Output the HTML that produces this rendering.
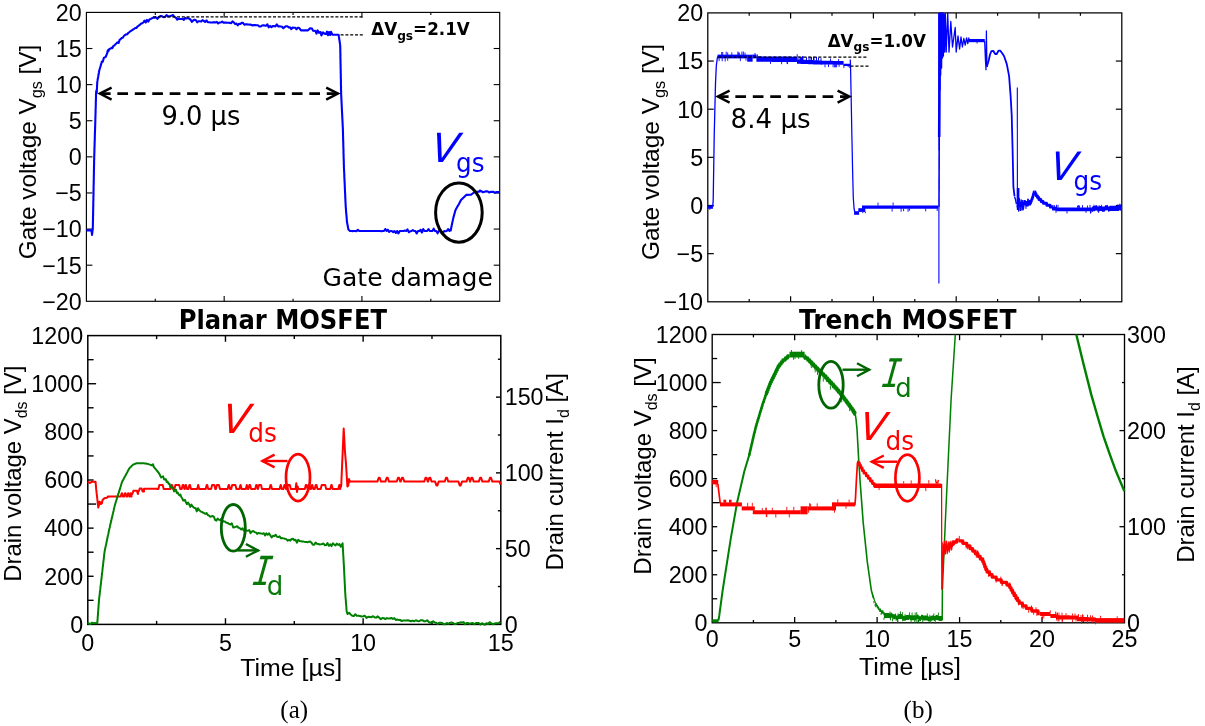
<!DOCTYPE html>
<html><head><meta charset="utf-8"><title>Short-circuit waveforms</title>
<style>html,body{margin:0;padding:0;background:#fff}svg{display:block}text{white-space:pre}</style></head>
<body><svg width="1205" height="726" viewBox="0 0 1205 726">
<rect width="1205" height="726" fill="#ffffff"/>
<rect x="86.40" y="12.40" width="413.30" height="288.90" fill="none" stroke="#000000" stroke-width="1.15"/>
<line x1="224.17" y1="301.30" x2="224.17" y2="296.00" stroke="#000000" stroke-width="1.1" />
<line x1="224.17" y1="12.40" x2="224.17" y2="17.70" stroke="#000000" stroke-width="1.1" />
<line x1="361.93" y1="301.30" x2="361.93" y2="296.00" stroke="#000000" stroke-width="1.1" />
<line x1="361.93" y1="12.40" x2="361.93" y2="17.70" stroke="#000000" stroke-width="1.1" />
<line x1="155.28" y1="301.30" x2="155.28" y2="298.70" stroke="#000000" stroke-width="1.1" />
<line x1="155.28" y1="12.40" x2="155.28" y2="15.00" stroke="#000000" stroke-width="1.1" />
<line x1="293.05" y1="301.30" x2="293.05" y2="298.70" stroke="#000000" stroke-width="1.1" />
<line x1="293.05" y1="12.40" x2="293.05" y2="15.00" stroke="#000000" stroke-width="1.1" />
<line x1="430.82" y1="301.30" x2="430.82" y2="298.70" stroke="#000000" stroke-width="1.1" />
<line x1="430.82" y1="12.40" x2="430.82" y2="15.00" stroke="#000000" stroke-width="1.1" />
<line x1="86.40" y1="265.19" x2="92.40" y2="265.19" stroke="#000000" stroke-width="1.1" />
<line x1="499.70" y1="265.19" x2="493.70" y2="265.19" stroke="#000000" stroke-width="1.1" />
<line x1="86.40" y1="229.07" x2="92.40" y2="229.07" stroke="#000000" stroke-width="1.1" />
<line x1="499.70" y1="229.07" x2="493.70" y2="229.07" stroke="#000000" stroke-width="1.1" />
<line x1="86.40" y1="192.96" x2="92.40" y2="192.96" stroke="#000000" stroke-width="1.1" />
<line x1="499.70" y1="192.96" x2="493.70" y2="192.96" stroke="#000000" stroke-width="1.1" />
<line x1="86.40" y1="156.85" x2="92.40" y2="156.85" stroke="#000000" stroke-width="1.1" />
<line x1="499.70" y1="156.85" x2="493.70" y2="156.85" stroke="#000000" stroke-width="1.1" />
<line x1="86.40" y1="120.74" x2="92.40" y2="120.74" stroke="#000000" stroke-width="1.1" />
<line x1="499.70" y1="120.74" x2="493.70" y2="120.74" stroke="#000000" stroke-width="1.1" />
<line x1="86.40" y1="84.62" x2="92.40" y2="84.62" stroke="#000000" stroke-width="1.1" />
<line x1="499.70" y1="84.62" x2="493.70" y2="84.62" stroke="#000000" stroke-width="1.1" />
<line x1="86.40" y1="48.51" x2="92.40" y2="48.51" stroke="#000000" stroke-width="1.1" />
<line x1="499.70" y1="48.51" x2="493.70" y2="48.51" stroke="#000000" stroke-width="1.1" />
<text x="81.70" y="309.64" font-size="23.3" font-family='"Liberation Sans", Arial, sans-serif' text-anchor="end" fill="#000000" >−20</text>
<text x="81.70" y="273.53" font-size="23.3" font-family='"Liberation Sans", Arial, sans-serif' text-anchor="end" fill="#000000" >−15</text>
<text x="81.70" y="237.42" font-size="23.3" font-family='"Liberation Sans", Arial, sans-serif' text-anchor="end" fill="#000000" >−10</text>
<text x="81.70" y="201.30" font-size="23.3" font-family='"Liberation Sans", Arial, sans-serif' text-anchor="end" fill="#000000" >−5</text>
<text x="81.70" y="165.19" font-size="23.3" font-family='"Liberation Sans", Arial, sans-serif' text-anchor="end" fill="#000000" >0</text>
<text x="81.70" y="129.08" font-size="23.3" font-family='"Liberation Sans", Arial, sans-serif' text-anchor="end" fill="#000000" >5</text>
<text x="81.70" y="92.97" font-size="23.3" font-family='"Liberation Sans", Arial, sans-serif' text-anchor="end" fill="#000000" >10</text>
<text x="81.70" y="56.85" font-size="23.3" font-family='"Liberation Sans", Arial, sans-serif' text-anchor="end" fill="#000000" >15</text>
<text x="81.70" y="20.74" font-size="23.3" font-family='"Liberation Sans", Arial, sans-serif' text-anchor="end" fill="#000000" >20</text>
<text transform="translate(35.8 152.0) rotate(-90)" text-anchor="middle" font-family='"Liberation Sans", Arial, sans-serif' font-size="23.8" fill="#000000" textLength="214.6" lengthAdjust="spacingAndGlyphs">Gate voltage V<tspan font-size="15.8" dy="5.8">gs</tspan><tspan dy="-5.8"> [V]</tspan></text>
<polyline points="86.4,230.4 87.4,230.4 88.4,230.4 89.5,230.4 90.5,230.4 91.5,230.4 91.6,231.6 91.8,232.7 91.9,233.8 92.0,235.0 92.1,233.9 92.3,232.9 92.4,231.8 92.5,230.7 92.7,229.7 92.8,228.6 92.8,227.6 92.8,226.6 92.9,225.6 92.9,224.6 92.9,223.6 92.9,222.6 92.9,221.6 93.0,220.6 93.0,219.6 93.0,218.6 93.0,217.6 93.0,216.6 93.1,215.6 93.1,214.6 93.1,213.6 93.1,212.6 93.1,211.6 93.2,210.5 93.2,209.5 93.2,208.5 93.2,207.5 93.2,206.5 93.3,205.5 93.3,204.5 93.3,203.5 93.3,202.5 93.3,201.5 93.4,200.5 93.4,199.5 93.4,198.5 93.4,197.5 93.4,196.5 93.5,195.5 93.5,194.5 93.5,193.5 93.5,192.5 93.5,191.5 93.5,190.5 93.6,189.5 93.6,188.5 93.6,187.5 93.6,186.5 93.6,185.5 93.7,184.5 93.7,183.5 93.7,182.5 93.7,181.5 93.7,180.5 93.8,179.5 93.8,178.5 93.8,177.5 93.8,176.5 93.8,175.5 93.9,174.4 93.9,173.4 93.9,172.4 93.9,171.4 93.9,170.4 94.0,169.4 94.0,168.4 94.0,167.4 94.0,166.4 94.0,165.4 94.1,164.4 94.1,163.4 94.1,162.4 94.1,161.4 94.1,160.4 94.2,159.4 94.2,158.4 94.2,157.4 94.2,156.4 94.3,155.4 94.3,154.3 94.3,153.3 94.4,152.3 94.4,151.3 94.4,150.2 94.4,149.2 94.5,148.2 94.5,147.2 94.5,146.2 94.6,145.1 94.6,144.1 94.6,143.1 94.7,142.1 94.7,141.1 94.7,140.0 94.8,139.0 94.8,138.0 94.8,137.0 94.8,135.9 94.9,134.9 94.9,133.9 94.9,132.9 95.0,131.9 95.0,130.8 95.0,129.8 95.1,128.8 95.1,127.8 95.1,126.8 95.2,125.7 95.2,124.7 95.2,123.7 95.3,122.7 95.3,121.7 95.3,120.6 95.3,119.6 95.4,118.6 95.4,117.6 95.4,116.5 95.5,115.5 95.5,114.5 95.5,113.5 95.6,112.4 95.6,111.4 95.6,110.3 95.6,109.3 95.7,108.2 95.7,107.2 95.7,106.2 95.8,105.1 95.8,104.1 95.8,103.0 95.8,102.0 95.9,100.9 95.9,99.9 95.9,98.9 96.0,97.8 96.0,96.8 96.0,95.7 96.0,94.7 96.1,93.6 96.1,92.6 96.2,91.5 96.4,90.5 96.6,91.8 96.7,93.0 96.8,92.0 96.8,90.9 96.9,89.9 96.9,88.9 97.0,87.9 97.0,86.8 97.1,85.8 97.1,84.8 97.2,83.8 97.2,82.7 97.3,81.7 97.5,80.7 97.6,79.7 97.8,78.7 98.0,77.7 98.2,76.7 98.3,75.7 98.5,74.7 98.7,73.7 98.9,72.7 99.0,71.7 99.2,70.7 99.5,69.7 99.8,68.7 100.1,67.7 100.4,66.7 100.7,65.6 101.0,64.6 101.3,63.6 101.6,62.6 101.9,61.6 101.9,61.6 102.8,61.8 103.8,57.9 104.7,57.4 105.6,57.0 106.1,56.0 106.7,54.4 107.2,53.3 107.8,50.2 108.3,51.3 109.3,49.0 110.3,48.8 111.4,47.9 112.4,48.1 113.4,46.0 114.5,45.4 115.5,44.2 116.5,43.3 117.5,42.3 118.6,43.0 119.6,39.9 120.7,39.1 121.7,38.0 122.8,37.7 123.8,36.0 124.9,35.2 126.1,34.4 127.2,34.3 128.3,32.8 129.5,32.0 130.6,31.2 131.8,30.4 132.9,29.6 134.1,28.8 135.2,28.0 136.3,28.0 137.5,26.5 138.7,25.7 139.8,24.9 140.9,23.7 142.1,23.3 143.3,22.5 144.5,20.6 145.7,22.5 146.9,19.9 148.2,21.7 149.4,19.4 150.6,19.0 151.8,18.4 153.0,17.8 154.5,17.7 155.9,17.2 157.4,18.9 158.8,17.3 160.3,16.0 161.8,16.1 163.4,17.1 164.9,17.0 166.5,15.1 168.0,16.4 169.3,16.4 170.6,15.9 171.8,15.5 173.1,15.0 174.5,17.0 175.9,17.6 177.2,19.7 178.6,18.7 179.9,18.9 181.3,19.0 182.6,18.8 183.9,19.9 185.2,17.9 186.6,18.4 187.9,18.1 189.2,18.7 190.5,19.7 191.9,21.8 193.2,20.5 194.5,19.7 195.9,20.3 197.2,22.3 198.5,21.2 199.8,21.3 201.2,21.5 202.5,20.1 203.8,20.9 205.1,22.0 206.5,20.3 207.8,22.3 209.1,22.3 210.4,22.5 211.7,22.5 213.0,22.4 214.3,22.4 215.6,22.4 216.9,21.9 218.2,23.5 219.5,22.5 220.8,22.5 222.1,21.5 223.4,22.6 224.7,22.6 226.0,22.6 227.3,22.7 228.6,22.8 229.9,22.9 231.2,23.1 232.5,21.4 233.8,22.4 235.2,24.1 236.5,23.5 237.8,25.3 239.1,23.7 240.4,23.9 241.7,22.9 243.0,22.9 244.3,24.7 245.7,24.3 247.1,24.4 248.4,24.5 249.8,24.6 251.2,24.8 252.6,25.5 253.9,25.0 255.3,25.1 256.6,25.2 258.0,25.2 259.3,26.4 260.7,26.5 262.0,25.5 263.4,25.2 264.7,25.6 266.0,25.7 267.4,24.3 268.7,27.4 270.1,25.9 271.4,27.2 272.7,26.1 274.1,26.1 275.4,26.4 276.8,24.4 278.1,26.4 279.5,26.4 280.8,26.5 282.1,26.7 283.4,28.2 284.7,27.0 286.1,26.2 287.4,26.3 288.7,27.4 290.0,27.3 291.3,29.2 292.6,27.5 293.9,27.7 295.2,27.7 296.5,29.3 297.8,27.8 299.1,27.8 299.1,27.8 301.0,30.4 308.0,30.4 310.0,28.2 312.0,28.6 313.0,30.6 315.5,31.0 316.5,33.6 317.6,30.4 319.0,32.8 320.6,32.0 321.4,35.4 323.0,32.4 324.6,33.8 326.0,34.0 327.0,31.6 328.0,35.2 329.0,32.0 330.2,35.0 331.0,31.8 332.4,34.6 338.6,34.8 338.6,34.8 338.8,35.8 338.9,36.9 339.1,37.9 339.2,39.0 339.4,40.0 339.6,41.0 339.7,42.1 339.9,43.1 340.0,44.2 340.2,45.2 340.2,46.2 340.2,47.2 340.3,48.2 340.3,49.2 340.3,50.2 340.3,51.3 340.3,52.3 340.4,53.3 340.4,54.3 340.4,55.3 340.4,56.3 340.4,57.3 340.4,58.3 340.5,59.3 340.5,60.3 340.5,61.3 340.5,62.3 340.5,63.4 340.6,64.4 340.6,65.4 340.6,66.4 340.6,67.4 340.6,68.4 340.7,69.4 340.7,70.4 340.7,71.4 340.7,72.4 340.7,73.4 340.8,74.4 340.8,75.5 340.8,76.5 340.8,77.5 340.8,78.5 340.9,79.5 340.9,80.5 340.9,81.5 340.9,82.5 340.9,83.5 340.9,84.5 341.0,85.5 341.0,86.5 341.0,87.6 341.0,88.6 341.0,89.6 341.1,90.6 341.1,91.6 341.1,92.6 341.1,93.6 341.2,94.6 341.2,95.6 341.3,96.6 341.3,97.7 341.4,98.7 341.4,99.7 341.5,100.7 341.5,101.7 341.6,102.7 341.6,103.7 341.7,104.7 341.7,105.7 341.8,106.8 341.8,107.8 341.9,108.8 341.9,109.8 342.0,110.8 342.0,111.8 342.1,112.8 342.1,113.8 342.2,114.8 342.2,115.8 342.3,116.9 342.3,117.9 342.4,118.9 342.4,119.9 342.5,120.9 342.5,121.9 342.6,122.9 342.6,123.9 342.7,124.9 342.7,126.0 342.8,127.0 342.8,128.0 342.9,129.0 342.9,130.0 342.9,131.0 343.0,132.0 343.0,133.0 343.0,134.1 343.0,135.1 343.1,136.1 343.1,137.1 343.1,138.1 343.1,139.1 343.2,140.1 343.2,141.2 343.2,142.2 343.3,143.2 343.3,144.2 343.3,145.2 343.3,146.2 343.4,147.2 343.4,148.2 343.4,149.3 343.5,150.3 343.5,151.3 343.5,152.3 343.5,153.3 343.6,154.3 343.6,155.3 343.6,156.4 343.6,157.4 343.7,158.4 343.7,159.4 343.7,160.4 343.8,161.4 343.8,162.4 343.8,163.5 343.8,164.5 343.9,165.5 343.9,166.5 343.9,167.5 344.0,168.5 344.0,169.5 344.1,170.5 344.1,171.5 344.2,172.5 344.2,173.5 344.3,174.5 344.3,175.5 344.3,176.6 344.4,177.6 344.4,178.6 344.5,179.6 344.5,180.6 344.6,181.6 344.6,182.6 344.7,183.6 344.7,184.6 344.8,185.6 344.8,186.6 344.8,187.6 344.9,188.6 344.9,189.6 345.0,190.6 345.0,191.6 345.1,192.6 345.1,193.6 345.2,194.6 345.2,195.6 345.2,196.6 345.3,197.7 345.3,198.7 345.4,199.7 345.4,200.7 345.5,201.7 345.5,202.7 345.6,203.7 345.6,204.7 345.7,205.7 345.7,206.7 345.8,207.7 345.9,208.7 346.0,209.8 346.0,210.8 346.1,211.8 346.2,212.8 346.3,213.8 346.4,214.9 346.5,215.9 346.6,216.9 346.7,217.9 346.7,218.9 346.8,220.0 346.9,221.0 347.0,222.0 347.2,223.1 347.4,224.1 347.6,225.2 347.8,226.3 348.0,227.4 348.2,228.4 348.4,229.5 349.2,230.2 350.0,231.0 350.0,231.0 351.3,231.0 352.6,231.1 353.9,231.0 355.2,231.0 356.5,231.3 357.8,229.8 359.2,231.0 360.5,231.0 361.8,231.0 363.1,231.0 364.4,231.0 365.7,231.0 367.0,231.0 368.3,231.0 369.6,231.0 370.9,231.0 372.2,231.0 373.5,231.0 374.8,231.0 376.2,231.0 377.5,231.0 378.8,231.0 380.1,231.0 381.4,231.3 382.7,231.0 384.0,231.0 385.3,229.0 386.6,231.0 387.9,229.7 389.2,231.9 390.5,231.0 391.8,231.0 393.2,232.1 394.5,231.0 395.8,233.0 397.1,231.0 398.4,233.4 399.7,231.0 401.0,231.0 402.3,231.0 403.6,231.0 404.9,230.6 406.2,231.0 407.5,229.4 408.9,232.2 410.2,231.3 411.5,231.0 412.8,230.1 414.1,231.0 415.4,231.0 416.7,233.5 418.0,231.0 419.3,231.0 420.6,229.8 421.9,232.5 423.2,229.1 424.5,231.0 425.9,231.0 427.2,231.0 428.5,229.2 429.8,231.0 431.1,231.0 432.4,231.0 433.7,228.7 435.0,231.0 436.3,231.0 437.6,233.3 438.9,231.0 440.2,231.0 441.5,232.9 442.9,232.9 444.2,231.0 445.5,231.3 446.8,231.0 448.1,229.1 449.4,231.0 450.7,229.0 450.7,230.5 452.0,224.0 453.4,217.6 455.5,210.0 458.0,205.5 458.8,204.3 461.0,200.0 466.2,194.9 470.8,194.8 474.0,192.5 479.9,191.4 479.9,190.5 481.4,191.2 482.9,192.3 484.5,191.7 486.0,191.4 487.5,191.2 489.0,192.4 490.6,191.9 492.1,191.8 493.6,191.9 495.1,192.8 496.7,192.0 498.2,192.1 499.7,192.1" fill="none" stroke="#0000ff" stroke-width="2.1" stroke-linejoin="round" stroke-linecap="butt" />
<line x1="153.00" y1="16.95" x2="362.30" y2="16.95" stroke="#000" stroke-width="1.3" stroke-dasharray="3 1.8"/>
<line x1="340.60" y1="34.90" x2="363.20" y2="34.90" stroke="#000" stroke-width="1.3" stroke-dasharray="3 1.8"/>
<line x1="99.90" y1="93.60" x2="338.00" y2="93.60" stroke="#000000" stroke-width="2.6" stroke-dasharray="10.7 6.75"/>
<polyline points="111.6,87.6 99.8,93.6 111.6,99.6" fill="none" stroke="#000000" stroke-width="2.4" stroke-linejoin="miter" stroke-linecap="butt"/>
<polyline points="326.2,87.6 338.0,93.6 326.2,99.6" fill="none" stroke="#000000" stroke-width="2.4" stroke-linejoin="miter" stroke-linecap="butt"/>
<text x="161.40" y="125.00" font-size="27" font-family='"DejaVu Sans", "Liberation Sans", sans-serif' text-anchor="start" fill="#000000" textLength="79.0" lengthAdjust="spacingAndGlyphs" >9.0 µs</text>
<text x="371.2" y="35.1" font-family='"DejaVu Sans", "Liberation Sans", sans-serif' font-weight="bold" font-size="17.2" fill="#000000" textLength="98.6" lengthAdjust="spacingAndGlyphs">ΔV<tspan font-size="12.5" dy="4.6">gs</tspan><tspan dy="-4.6">=2.1V</tspan></text>
<text x="0" y="0" transform="translate(430.1 162) skewX(-7.5)" font-family='"DejaVu Sans", "Liberation Sans", sans-serif' font-style="italic" font-size="40" fill="#0000ff">V</text>
<text x="456.00" y="171.80" font-size="26.7" font-family='"DejaVu Sans", "Liberation Sans", sans-serif' text-anchor="start" fill="#0000ff" textLength="28.5" lengthAdjust="spacingAndGlyphs" >gs</text>
<ellipse cx="458.9" cy="212.6" rx="23.3" ry="29.6" fill="none" stroke="#000000" stroke-width="3.0"/>
<text x="322.60" y="285.70" font-size="25" font-family='"DejaVu Sans", "Liberation Sans", sans-serif' text-anchor="start" fill="#000000" textLength="170.3" lengthAdjust="spacingAndGlyphs" >Gate damage</text>
<text x="178.70" y="328.90" font-size="26" font-family='"DejaVu Sans", "Liberation Sans", sans-serif' text-anchor="start" fill="#000000" font-weight="bold" textLength="208.3" lengthAdjust="spacingAndGlyphs" >Planar MOSFET</text>
<rect x="87.80" y="335.60" width="413.00" height="288.80" fill="none" stroke="#000000" stroke-width="1.5"/>
<line x1="225.47" y1="624.40" x2="225.47" y2="618.20" stroke="#000000" stroke-width="1.4" />
<line x1="225.47" y1="335.60" x2="225.47" y2="341.80" stroke="#000000" stroke-width="1.4" />
<line x1="363.13" y1="624.40" x2="363.13" y2="618.20" stroke="#000000" stroke-width="1.4" />
<line x1="363.13" y1="335.60" x2="363.13" y2="341.80" stroke="#000000" stroke-width="1.4" />
<line x1="156.63" y1="624.40" x2="156.63" y2="620.90" stroke="#000000" stroke-width="1.4" />
<line x1="156.63" y1="335.60" x2="156.63" y2="339.10" stroke="#000000" stroke-width="1.4" />
<line x1="294.30" y1="624.40" x2="294.30" y2="620.90" stroke="#000000" stroke-width="1.4" />
<line x1="294.30" y1="335.60" x2="294.30" y2="339.10" stroke="#000000" stroke-width="1.4" />
<line x1="431.97" y1="624.40" x2="431.97" y2="620.90" stroke="#000000" stroke-width="1.4" />
<line x1="431.97" y1="335.60" x2="431.97" y2="339.10" stroke="#000000" stroke-width="1.4" />
<line x1="87.80" y1="504.07" x2="96.10" y2="504.07" stroke="#000000" stroke-width="1.4" />
<line x1="87.80" y1="383.73" x2="96.10" y2="383.73" stroke="#000000" stroke-width="1.4" />
<line x1="87.80" y1="600.33" x2="93.60" y2="600.33" stroke="#000000" stroke-width="1.4" />
<line x1="87.80" y1="576.27" x2="93.60" y2="576.27" stroke="#000000" stroke-width="1.4" />
<line x1="87.80" y1="552.20" x2="93.60" y2="552.20" stroke="#000000" stroke-width="1.4" />
<line x1="87.80" y1="528.13" x2="93.60" y2="528.13" stroke="#000000" stroke-width="1.4" />
<line x1="87.80" y1="480.00" x2="93.60" y2="480.00" stroke="#000000" stroke-width="1.4" />
<line x1="87.80" y1="455.93" x2="93.60" y2="455.93" stroke="#000000" stroke-width="1.4" />
<line x1="87.80" y1="431.87" x2="93.60" y2="431.87" stroke="#000000" stroke-width="1.4" />
<line x1="87.80" y1="407.80" x2="93.60" y2="407.80" stroke="#000000" stroke-width="1.4" />
<line x1="87.80" y1="359.67" x2="93.60" y2="359.67" stroke="#000000" stroke-width="1.4" />
<line x1="500.80" y1="548.64" x2="496.00" y2="548.64" stroke="#000000" stroke-width="1.4" />
<line x1="500.80" y1="472.88" x2="496.00" y2="472.88" stroke="#000000" stroke-width="1.4" />
<line x1="500.80" y1="397.12" x2="496.00" y2="397.12" stroke="#000000" stroke-width="1.4" />
<line x1="500.80" y1="586.52" x2="497.90" y2="586.52" stroke="#000000" stroke-width="1.4" />
<line x1="500.80" y1="510.76" x2="497.90" y2="510.76" stroke="#000000" stroke-width="1.4" />
<line x1="500.80" y1="435.00" x2="497.90" y2="435.00" stroke="#000000" stroke-width="1.4" />
<line x1="500.80" y1="359.24" x2="497.90" y2="359.24" stroke="#000000" stroke-width="1.4" />
<text x="83.10" y="632.74" font-size="23.3" font-family='"Liberation Sans", Arial, sans-serif' text-anchor="end" fill="#000000" >0</text>
<text x="83.10" y="584.61" font-size="23.3" font-family='"Liberation Sans", Arial, sans-serif' text-anchor="end" fill="#000000" >200</text>
<text x="83.10" y="536.47" font-size="23.3" font-family='"Liberation Sans", Arial, sans-serif' text-anchor="end" fill="#000000" >400</text>
<text x="83.10" y="488.34" font-size="23.3" font-family='"Liberation Sans", Arial, sans-serif' text-anchor="end" fill="#000000" >600</text>
<text x="83.10" y="440.21" font-size="23.3" font-family='"Liberation Sans", Arial, sans-serif' text-anchor="end" fill="#000000" >800</text>
<text x="83.10" y="392.07" font-size="23.3" font-family='"Liberation Sans", Arial, sans-serif' text-anchor="end" fill="#000000" >1000</text>
<text x="83.10" y="343.94" font-size="23.3" font-family='"Liberation Sans", Arial, sans-serif' text-anchor="end" fill="#000000" >1200</text>
<text x="504.70" y="632.74" font-size="23.3" font-family='"Liberation Sans", Arial, sans-serif' text-anchor="start" fill="#000000" >0</text>
<text x="504.70" y="556.98" font-size="23.3" font-family='"Liberation Sans", Arial, sans-serif' text-anchor="start" fill="#000000" >50</text>
<text x="504.70" y="481.22" font-size="23.3" font-family='"Liberation Sans", Arial, sans-serif' text-anchor="start" fill="#000000" >100</text>
<text x="504.70" y="405.46" font-size="23.3" font-family='"Liberation Sans", Arial, sans-serif' text-anchor="start" fill="#000000" >150</text>
<text x="87.80" y="651.20" font-size="23.3" font-family='"Liberation Sans", Arial, sans-serif' text-anchor="middle" fill="#000000" >0</text>
<text x="225.47" y="651.20" font-size="23.3" font-family='"Liberation Sans", Arial, sans-serif' text-anchor="middle" fill="#000000" >5</text>
<text x="363.13" y="651.20" font-size="23.3" font-family='"Liberation Sans", Arial, sans-serif' text-anchor="middle" fill="#000000" >10</text>
<text x="500.80" y="651.20" font-size="23.3" font-family='"Liberation Sans", Arial, sans-serif' text-anchor="middle" fill="#000000" >15</text>
<text transform="translate(21.3 473.7) rotate(-90)" text-anchor="middle" font-family='"Liberation Sans", Arial, sans-serif' font-size="23.8" fill="#000000" textLength="216" lengthAdjust="spacingAndGlyphs">Drain voltage V<tspan font-size="15.8" dy="5.8">ds</tspan><tspan dy="-5.8"> [V]</tspan></text>
<text transform="translate(563.2 471.8) rotate(-90)" text-anchor="middle" font-family='"Liberation Sans", Arial, sans-serif' font-size="23.8" fill="#000000" textLength="197.6" lengthAdjust="spacingAndGlyphs">Drain current I<tspan font-size="15.8" dy="5.8">d</tspan><tspan dy="-5.8"> [A]</tspan></text>
<text x="240.20" y="676.20" font-size="24.2" font-family='"Liberation Sans", Arial, sans-serif' text-anchor="start" fill="#000000" textLength="102.0" lengthAdjust="spacingAndGlyphs" >Time [µs]</text>
<text x="294.20" y="717.90" font-size="25" font-family='"Liberation Serif", serif' text-anchor="middle" fill="#000000" >(a)</text>
<polyline points="87.8,481.7 88.9,482.4 90.0,483.0 92.0,481.7 93.8,481.7 95.5,481.7 95.6,483.0 95.8,484.3 95.9,485.6 96.0,486.9 96.1,488.1 96.2,489.4 96.4,490.7 96.5,492.0 96.6,493.2 96.8,494.4 96.9,495.6 97.1,496.8 97.2,498.0 97.3,499.2 97.5,500.4 97.6,501.6 97.7,502.8 97.9,504.0 98.0,505.2 98.2,506.4 98.3,507.6 98.3,507.3 98.5,506.7 98.8,505.8 99.0,504.8 99.3,503.9 99.5,501.7 100.2,502.2 101.0,504.0 101.5,502.1 101.9,503.2 102.3,501.2 102.8,499.6 103.6,499.1 104.4,498.1 105.2,497.9 106.0,498.0 107.0,497.6 108.0,496.4 109.0,496.7 109.0,496.4 120.0,496.4 120.0,496.6 120.7,496.6 121.7,493.2 122.1,493.2 123.1,496.6 124.0,496.6 125.0,493.2 125.5,493.2 126.5,496.6 127.1,496.6 128.1,493.2 128.5,493.2 129.5,496.6 129.7,496.6 130.7,493.2 130.9,493.2 131.5,496.6 131.5,494.0 132.4,494.0 133.4,490.8 136.9,490.8 137.9,494.0 138.0,494.0 138.0,491.5 138.7,491.5 139.7,488.6 141.6,488.6 142.6,491.5 144.0,491.5 144.0,488.8 157.0,488.8 157.0,488.9 158.4,488.9 159.4,485.0 162.7,485.0 163.7,488.9 170.5,488.9 171.5,485.0 172.0,485.0 173.0,488.9 174.4,488.9 175.4,485.0 179.2,485.0 180.2,488.9 181.7,488.9 182.7,485.0 183.4,485.0 184.4,488.9 184.7,488.9 185.7,485.0 186.0,485.0 187.0,488.9 188.4,488.9 189.4,485.0 190.0,485.0 191.0,488.9 197.2,488.9 198.2,485.0 198.2,485.0 199.2,488.9 205.7,488.9 206.7,485.0 207.2,485.0 208.2,488.9 211.1,488.9 212.1,485.0 214.3,485.0 215.3,488.9 215.9,488.9 216.9,485.0 218.9,485.0 219.9,488.9 227.6,488.9 228.6,485.0 229.0,485.0 230.0,488.9 231.2,488.9 232.2,485.0 235.4,485.0 236.4,488.9 239.4,488.9 240.4,485.0 240.6,485.0 241.6,488.9 245.8,488.9 246.8,485.0 246.8,485.0 247.8,488.9 248.4,488.9 249.4,485.0 250.1,485.0 251.1,488.9 255.2,488.9 256.2,485.0 256.7,485.0 257.7,488.9 258.0,488.9 259.0,485.0 261.0,485.0 262.0,488.9 269.5,488.9 270.5,485.0 271.0,485.0 272.0,488.9 279.6,488.9 280.6,485.0 280.8,485.0 281.8,488.9 283.4,488.9 284.4,485.0 285.0,485.0 286.0,488.9 287.0,488.9 288.0,485.0 289.8,485.0 290.8,488.9 295.0,488.9 295.6,488.9 296.3,483.2 297.0,492.0 297.7,486.5 298.3,488.9 298.5,488.9 304.8,488.9 305.8,485.0 306.6,485.0 307.6,488.9 307.9,488.9 308.9,485.0 309.3,485.0 310.3,488.9 311.0,488.9 312.0,485.0 312.3,485.0 313.3,488.9 314.7,488.9 315.7,485.0 316.5,485.0 317.5,488.9 320.7,488.9 321.7,485.0 325.2,485.0 326.2,488.9 330.3,488.9 331.3,485.0 331.7,485.0 332.7,488.9 338.3,488.9 339.3,485.0 339.7,485.0 340.0,488.9 340.1,489.0 341.2,486.0 343.7,428.5 345.0,452.0 346.0,463.9 347.4,486.5 348.3,485.5 349.0,479.0 350.0,481.8 350.0,481.6 377.4,481.6 378.7,477.7 379.7,477.7 381.0,481.6 385.4,481.6 386.7,477.7 387.7,477.7 389.0,481.6 396.7,481.6 398.0,477.7 399.0,477.7 400.3,481.6 400.7,481.6 402.0,477.7 403.0,477.7 404.3,481.6 424.2,481.6 425.5,477.7 426.5,477.7 427.8,481.6 428.0,481.6 429.3,477.7 430.3,477.7 431.6,481.6 435.1,481.6 436.4,485.4 437.4,485.4 438.7,481.6 444.7,481.6 446.0,477.7 447.0,477.7 448.3,481.6 458.4,481.6 459.7,485.4 460.7,485.4 462.0,481.6 466.5,481.6 467.8,477.7 468.8,477.7 470.1,481.6 470.1,481.6 471.4,477.7 472.4,477.7 473.7,481.6 478.8,481.6 480.1,477.7 481.1,477.7 482.4,481.6 488.7,481.6 490.0,477.7 491.0,477.7 492.3,481.6 499.4,481.6 500.6,484.5" fill="none" stroke="#ff0000" stroke-width="2.0" stroke-linejoin="round" stroke-linecap="butt" />
<polyline points="87.8,622.4 89.2,623.8 90.5,624.0 91.9,622.8 93.2,623.2 94.6,623.0 95.9,623.2 97.3,623.2 97.3,623.2 97.4,622.2 97.4,621.2 97.5,620.2 97.6,619.2 97.7,618.2 97.7,617.1 97.8,616.1 97.9,615.1 98.0,614.1 98.0,613.1 98.1,612.1 98.2,611.1 98.3,610.1 98.3,609.1 98.4,608.1 98.5,607.1 98.6,606.1 98.6,605.0 98.7,604.0 98.8,603.0 98.9,602.0 98.9,601.0 99.0,600.0 99.1,599.0 99.2,598.0 99.3,597.0 99.5,596.0 99.6,594.9 99.7,593.9 99.8,592.9 99.9,591.9 100.0,590.9 100.2,589.9 100.3,588.9 100.4,587.9 100.5,586.9 100.6,585.9 100.8,584.8 100.9,583.8 101.0,582.8 101.1,581.8 101.2,580.8 101.3,579.8 101.5,578.8 101.6,577.8 101.7,576.8 101.8,575.8 101.9,574.7 102.0,573.7 102.1,572.7 102.3,571.7 102.4,570.7 102.5,569.7 102.6,568.7 102.7,567.7 102.8,566.7 103.0,565.6 103.1,564.6 103.2,563.6 103.3,562.6 103.4,561.6 103.5,560.6 103.7,559.6 103.8,558.6 103.9,557.6 104.0,556.6 104.1,555.5 104.2,554.5 104.4,553.5 104.5,552.5 104.6,551.5 104.8,550.5 105.0,549.5 105.2,548.5 105.4,547.5 105.6,546.5 105.9,545.5 106.1,544.5 106.3,543.5 106.5,542.5 106.7,541.5 106.9,540.5 107.1,539.5 107.3,538.5 107.5,537.5 107.7,536.5 107.9,535.5 108.2,534.5 108.4,533.5 108.6,532.5 108.8,531.5 109.0,530.5 109.2,529.5 109.4,528.5 109.7,527.5 109.9,526.5 110.1,525.5 110.3,524.6 110.6,523.6 110.8,522.6 111.0,521.6 111.3,520.6 111.5,519.6 111.7,518.6 112.0,517.6 112.2,516.7 112.4,515.7 112.6,514.7 112.9,513.7 113.1,512.7 113.3,511.7 113.6,510.7 113.8,509.8 114.0,508.8 114.2,507.8 114.5,506.8 114.7,505.8 115.0,504.8 115.3,503.8 115.6,502.8 115.9,501.8 116.2,500.8 116.5,499.9 116.8,498.9 117.1,497.9 117.4,496.9 117.7,495.9 118.0,494.9 118.3,493.9 118.7,492.9 119.0,491.9 119.3,490.9 119.6,489.9 119.9,488.9 120.2,487.9 120.5,487.0 120.8,486.0 121.1,485.0 121.4,484.0 121.7,483.0 122.0,482.0 122.5,481.1 123.0,480.2 123.5,479.3 123.9,478.4 124.4,477.5 124.9,476.6 125.4,475.7 125.9,474.7 126.4,473.8 126.9,472.9 127.4,472.0 127.8,471.1 128.3,470.2 128.8,469.3 129.3,468.4 130.0,467.6 130.8,466.9 131.5,466.1 132.3,465.4 133.0,464.6 134.2,464.2 135.4,463.7 136.6,463.3 137.6,463.3 138.7,463.3 139.7,463.3 140.8,463.3 141.8,463.3 142.9,463.3 143.9,463.3 144.9,463.4 145.9,463.6 147.0,463.8 148.0,463.9 148.0,463.9 149.2,464.4 150.5,464.9 151.8,465.4 153.0,464.3 153.9,467.1 154.8,468.1 155.7,469.2 156.7,470.4 157.6,471.5 158.5,472.6 159.4,473.9 160.3,475.9 161.2,477.5 162.1,476.8 163.1,476.3 164.0,479.3 164.9,479.7 165.8,479.0 166.7,482.0 167.6,481.6 168.6,483.7 169.5,483.8 170.4,487.5 171.3,486.6 172.2,487.6 173.1,487.5 174.0,491.4 175.0,490.5 175.9,489.6 176.8,493.1 177.7,492.5 178.6,494.4 179.5,495.4 180.4,494.5 181.3,497.0 182.2,498.3 183.2,500.5 184.1,500.2 185.0,500.0 185.9,502.2 187.0,504.2 188.1,502.5 189.2,504.4 190.3,506.9 191.4,504.6 192.4,506.2 193.5,507.3 194.6,508.0 195.7,508.3 196.8,511.4 198.0,508.3 199.2,510.3 200.5,511.3 201.7,511.9 202.9,512.5 204.2,513.1 205.4,513.8 206.6,513.1 207.8,515.0 209.1,515.6 210.3,516.8 211.5,516.3 212.7,516.0 213.9,516.9 215.2,520.1 216.4,520.6 217.6,518.6 218.8,519.7 220.0,520.2 221.2,518.9 222.4,520.6 223.7,521.6 224.9,521.6 226.1,522.6 227.5,522.9 228.9,523.9 230.4,524.5 231.8,523.3 233.2,527.5 234.5,527.3 235.9,526.7 237.2,526.3 238.5,527.7 239.8,528.1 241.2,529.5 242.5,528.2 243.8,530.6 245.2,530.0 246.5,530.5 247.8,530.8 249.2,530.0 250.5,533.1 251.8,531.6 253.2,530.9 254.5,532.1 255.8,532.4 257.1,533.9 258.5,532.9 259.8,533.2 261.1,533.5 262.4,533.7 263.8,533.3 265.1,535.4 266.4,533.3 267.7,534.8 269.0,533.3 270.4,535.5 271.7,537.5 273.0,535.8 274.3,536.1 275.7,534.8 277.0,536.8 278.3,537.1 279.6,536.4 281.0,538.3 282.3,538.1 283.6,538.4 285.0,538.8 286.3,539.1 287.6,540.7 289.0,539.8 290.3,540.7 291.6,538.9 293.0,538.7 294.3,540.3 295.6,539.8 296.9,542.7 298.3,539.8 299.6,541.1 300.9,541.3 302.3,541.5 303.6,541.6 304.9,541.9 306.2,542.1 307.6,542.3 308.9,541.7 310.2,541.5 311.6,542.9 312.9,544.8 314.2,544.8 315.6,542.5 316.9,543.7 318.2,543.9 319.5,544.5 320.9,544.3 322.2,544.0 323.5,543.5 324.9,545.3 326.2,545.1 327.5,543.1 328.9,545.8 330.2,544.3 331.5,546.2 332.8,543.3 334.2,544.6 335.5,545.5 336.8,543.6 338.1,544.9 339.5,544.1 340.8,546.7 342.6,543.6 342.6,543.3 342.7,544.3 342.7,545.3 342.8,546.4 342.8,547.4 342.9,548.4 342.9,549.4 343.0,550.4 343.1,551.5 343.1,552.5 343.2,553.5 343.2,554.5 343.3,555.5 343.4,556.5 343.4,557.6 343.5,558.6 343.5,559.6 343.6,560.6 343.6,561.6 343.7,562.7 343.8,563.7 343.8,564.7 343.9,565.7 343.9,566.7 344.0,567.8 344.0,568.8 344.1,569.8 344.1,570.8 344.2,571.8 344.2,572.8 344.3,573.8 344.3,574.8 344.4,575.8 344.4,576.8 344.5,577.8 344.5,578.8 344.6,579.8 344.6,580.8 344.7,581.9 344.7,582.9 344.8,583.9 344.8,584.9 344.9,585.9 344.9,586.9 345.0,587.9 345.0,588.9 345.1,589.9 345.1,590.9 345.2,591.9 345.2,592.9 345.3,593.9 345.4,595.0 345.4,596.0 345.5,597.0 345.6,598.1 345.7,599.1 345.8,600.1 345.9,601.2 345.9,602.2 346.0,603.2 346.1,604.3 346.2,605.3 346.3,606.3 346.4,607.4 346.4,608.4 346.5,609.4 346.6,610.5 346.7,611.5 347.1,612.8 347.6,614.0 347.6,614.0 349.1,612.8 350.7,614.5 352.2,615.7 353.8,616.1 355.3,614.2 356.8,615.7 358.4,615.8 359.9,616.0 361.6,616.5 363.2,616.3 364.9,615.8 366.5,617.9 368.2,616.8 369.8,617.0 371.5,617.2 373.1,616.2 374.8,617.5 376.3,617.6 377.8,616.4 379.3,617.8 380.8,619.2 382.3,618.0 383.8,618.2 385.3,619.1 386.8,618.1 388.3,618.5 389.8,618.6 391.3,617.9 392.8,619.0 394.3,618.0 395.8,620.0 397.2,619.5 398.7,619.9 400.2,619.9 401.7,621.1 403.2,620.5 404.7,620.4 406.3,620.5 407.9,620.3 409.5,620.7 411.1,621.2 412.7,620.6 414.3,621.3 415.9,620.2 417.5,621.1 419.1,621.2 420.7,620.3 422.3,620.2 423.9,621.2 425.5,621.3 427.1,620.2 428.6,621.8 430.1,622.8 431.6,622.3 433.1,621.2 434.6,622.4 436.1,622.8 437.7,623.9 439.2,622.8 440.7,622.8 442.2,622.9 443.8,624.3 445.3,624.3 446.8,622.9 448.4,623.8 449.9,622.9 451.4,622.5 452.9,622.9 454.5,624.1 456.0,623.9 457.5,623.0 459.0,623.0 460.6,622.3 462.1,622.5 463.6,622.1 465.2,624.3 466.7,623.0 468.2,623.1 469.7,623.9 471.3,623.2 472.8,623.1 474.3,624.2 475.9,623.1 477.4,623.1 478.9,623.1 480.4,624.6 482.0,623.2 483.5,624.1 485.0,624.7 486.5,623.2 488.1,624.0 489.6,622.2 491.1,623.2 492.7,624.2 494.2,623.7 495.7,623.3 497.2,623.3 498.8,623.3 500.3,621.8" fill="none" stroke="#008000" stroke-width="2.0" stroke-linejoin="round" stroke-linecap="butt" />
<ellipse cx="298" cy="477.6" rx="12" ry="23.5" fill="none" stroke="#ff0000" stroke-width="2.7"/>
<line x1="262.00" y1="461.00" x2="287.50" y2="461.00" stroke="#ff0000" stroke-width="2.4" />
<polyline points="274.6,454.6 262.4,461.0 274.6,467.4" fill="none" stroke="#ff0000" stroke-width="2.4" stroke-linejoin="miter" stroke-linecap="butt"/>
<ellipse cx="233.3" cy="527.8" rx="12" ry="23.3" fill="none" stroke="#006400" stroke-width="2.8"/>
<line x1="237.50" y1="550.40" x2="258.50" y2="550.40" stroke="#006400" stroke-width="2.4" />
<polyline points="245.9,544.0 258.1,550.4 245.9,556.8" fill="none" stroke="#006400" stroke-width="2.4" stroke-linejoin="miter" stroke-linecap="butt"/>
<text x="0" y="0" transform="translate(221.1 432.9) skewX(-7.5)" font-family='"DejaVu Sans", "Liberation Sans", sans-serif' font-style="italic" font-size="40" fill="#ff0000">V</text>
<text x="248.30" y="441.90" font-size="26.4" font-family='"DejaVu Sans", "Liberation Sans", sans-serif' text-anchor="start" fill="#ff0000" textLength="28.6" lengthAdjust="spacingAndGlyphs" >ds</text>
<text x="0" y="0" transform="translate(251.8 585.3) skewX(-7) scale(0.79 1)" font-family='"DejaVu Sans Mono", monospace' font-style="italic" font-size="40" fill="#087808">I</text>
<text x="266.80" y="595.10" font-size="26" font-family='"DejaVu Sans", "Liberation Sans", sans-serif' text-anchor="start" fill="#087808" >d</text>
<rect x="707.80" y="12.90" width="414.00" height="288.90" fill="none" stroke="#000000" stroke-width="1.25"/>
<line x1="790.60" y1="301.80" x2="790.60" y2="296.20" stroke="#000000" stroke-width="1.2" />
<line x1="790.60" y1="12.90" x2="790.60" y2="18.50" stroke="#000000" stroke-width="1.2" />
<line x1="873.40" y1="301.80" x2="873.40" y2="296.20" stroke="#000000" stroke-width="1.2" />
<line x1="873.40" y1="12.90" x2="873.40" y2="18.50" stroke="#000000" stroke-width="1.2" />
<line x1="956.20" y1="301.80" x2="956.20" y2="296.20" stroke="#000000" stroke-width="1.2" />
<line x1="956.20" y1="12.90" x2="956.20" y2="18.50" stroke="#000000" stroke-width="1.2" />
<line x1="1039.00" y1="301.80" x2="1039.00" y2="296.20" stroke="#000000" stroke-width="1.2" />
<line x1="1039.00" y1="12.90" x2="1039.00" y2="18.50" stroke="#000000" stroke-width="1.2" />
<line x1="749.20" y1="301.80" x2="749.20" y2="299.00" stroke="#000000" stroke-width="1.2" />
<line x1="749.20" y1="12.90" x2="749.20" y2="15.70" stroke="#000000" stroke-width="1.2" />
<line x1="832.00" y1="301.80" x2="832.00" y2="299.00" stroke="#000000" stroke-width="1.2" />
<line x1="832.00" y1="12.90" x2="832.00" y2="15.70" stroke="#000000" stroke-width="1.2" />
<line x1="914.80" y1="301.80" x2="914.80" y2="299.00" stroke="#000000" stroke-width="1.2" />
<line x1="914.80" y1="12.90" x2="914.80" y2="15.70" stroke="#000000" stroke-width="1.2" />
<line x1="997.60" y1="301.80" x2="997.60" y2="299.00" stroke="#000000" stroke-width="1.2" />
<line x1="997.60" y1="12.90" x2="997.60" y2="15.70" stroke="#000000" stroke-width="1.2" />
<line x1="1080.40" y1="301.80" x2="1080.40" y2="299.00" stroke="#000000" stroke-width="1.2" />
<line x1="1080.40" y1="12.90" x2="1080.40" y2="15.70" stroke="#000000" stroke-width="1.2" />
<line x1="707.80" y1="253.65" x2="713.80" y2="253.65" stroke="#000000" stroke-width="1.2" />
<line x1="1121.80" y1="253.65" x2="1115.80" y2="253.65" stroke="#000000" stroke-width="1.2" />
<line x1="707.80" y1="205.50" x2="713.80" y2="205.50" stroke="#000000" stroke-width="1.2" />
<line x1="1121.80" y1="205.50" x2="1115.80" y2="205.50" stroke="#000000" stroke-width="1.2" />
<line x1="707.80" y1="157.35" x2="713.80" y2="157.35" stroke="#000000" stroke-width="1.2" />
<line x1="1121.80" y1="157.35" x2="1115.80" y2="157.35" stroke="#000000" stroke-width="1.2" />
<line x1="707.80" y1="109.20" x2="713.80" y2="109.20" stroke="#000000" stroke-width="1.2" />
<line x1="1121.80" y1="109.20" x2="1115.80" y2="109.20" stroke="#000000" stroke-width="1.2" />
<line x1="707.80" y1="61.05" x2="713.80" y2="61.05" stroke="#000000" stroke-width="1.2" />
<line x1="1121.80" y1="61.05" x2="1115.80" y2="61.05" stroke="#000000" stroke-width="1.2" />
<text x="703.10" y="310.14" font-size="23.3" font-family='"Liberation Sans", Arial, sans-serif' text-anchor="end" fill="#000000" >−10</text>
<text x="703.10" y="261.99" font-size="23.3" font-family='"Liberation Sans", Arial, sans-serif' text-anchor="end" fill="#000000" >−5</text>
<text x="703.10" y="213.84" font-size="23.3" font-family='"Liberation Sans", Arial, sans-serif' text-anchor="end" fill="#000000" >0</text>
<text x="703.10" y="165.69" font-size="23.3" font-family='"Liberation Sans", Arial, sans-serif' text-anchor="end" fill="#000000" >5</text>
<text x="703.10" y="117.54" font-size="23.3" font-family='"Liberation Sans", Arial, sans-serif' text-anchor="end" fill="#000000" >10</text>
<text x="703.10" y="69.39" font-size="23.3" font-family='"Liberation Sans", Arial, sans-serif' text-anchor="end" fill="#000000" >15</text>
<text x="703.10" y="21.24" font-size="23.3" font-family='"Liberation Sans", Arial, sans-serif' text-anchor="end" fill="#000000" >20</text>
<text transform="translate(658.8 152.0) rotate(-90)" text-anchor="middle" font-family='"Liberation Sans", Arial, sans-serif' font-size="23.8" fill="#000000" textLength="216" lengthAdjust="spacingAndGlyphs">Gate voltage V<tspan font-size="15.8" dy="5.8">gs</tspan><tspan dy="-5.8"> [V]</tspan></text>
<path d="M707.8,205.6 L708.3,205.6 L708.8,205.6 L709.3,205.6 L709.8,205.6 L710.3,205.6 L710.9,205.6 L711.4,205.6 L711.9,205.6 L712.4,205.6 L712.9,205.6 L712.9,208.8 L712.4,208.8 L711.9,208.8 L711.4,208.8 L710.9,208.8 L710.3,208.8 L709.8,208.8 L709.3,208.8 L708.8,208.8 L708.3,208.8 L707.8,208.8Z" fill="#0000ff" stroke="none"/>
<path d="M709.8,208.5v1.4" fill="none" stroke="#0000ff" stroke-width="0.9"/>
<polyline points="712.7,207.0 713.2,200.0 714.2,136.5 715.5,83.5 716.3,66.0 717.3,58.0 718.2,56.0" fill="none" stroke="#0000ff" stroke-width="1.3" stroke-linejoin="round"/>
<path d="M717.6,54.6 L718.1,54.6 L718.6,54.6 L719.1,54.6 L719.6,54.6 L720.1,54.6 L720.6,54.6 L721.1,54.6 L721.7,54.6 L722.2,54.6 L722.7,54.6 L723.2,54.6 L723.7,54.6 L724.2,54.6 L724.7,54.6 L725.2,54.6 L725.7,54.6 L726.2,54.6 L726.7,54.6 L727.2,54.6 L727.7,54.6 L728.2,54.6 L728.7,54.6 L729.3,54.6 L729.8,54.6 L730.3,54.6 L730.8,54.6 L731.3,54.6 L731.8,54.6 L732.3,54.6 L732.8,54.6 L733.3,54.6 L733.8,54.6 L734.3,54.6 L734.8,54.6 L735.3,54.6 L735.8,54.6 L736.4,54.6 L736.9,54.6 L737.4,54.6 L737.9,54.6 L738.4,54.6 L738.9,54.6 L739.4,54.6 L739.9,54.6 L740.4,54.6 L740.9,54.6 L741.4,54.6 L741.9,54.6 L742.4,54.6 L742.9,54.6 L743.4,54.6 L744.0,54.6 L744.5,54.6 L745.0,54.6 L745.5,54.6 L746.0,54.6 L746.5,54.6 L747.0,54.6 L747.5,54.6 L747.5,58.4 L747.0,58.4 L746.5,58.4 L746.0,58.4 L745.5,58.4 L745.0,58.4 L744.5,58.4 L744.0,58.4 L743.4,58.4 L742.9,58.4 L742.4,58.4 L741.9,58.4 L741.4,58.4 L740.9,58.4 L740.4,58.4 L739.9,58.4 L739.4,58.4 L738.9,58.4 L738.4,58.4 L737.9,58.4 L737.4,58.4 L736.9,58.4 L736.4,58.4 L735.8,58.4 L735.3,58.4 L734.8,58.4 L734.3,58.4 L733.8,58.4 L733.3,58.4 L732.8,58.4 L732.3,58.4 L731.8,58.4 L731.3,58.4 L730.8,58.4 L730.3,58.4 L729.8,58.4 L729.3,58.4 L728.7,58.4 L728.2,58.4 L727.7,58.4 L727.2,58.4 L726.7,58.4 L726.2,58.4 L725.7,58.4 L725.2,58.4 L724.7,58.4 L724.2,58.4 L723.7,58.4 L723.2,58.4 L722.7,58.4 L722.2,58.4 L721.7,58.4 L721.1,58.4 L720.6,58.4 L720.1,58.4 L719.6,58.4 L719.1,58.4 L718.6,58.4 L718.1,58.4 L717.6,58.4Z" fill="#0000ff" stroke="none"/>
<path d="M719.1,58.1v3.1M721.7,54.9v-2.9M722.2,58.1v3.2M722.7,54.9v-2.9M725.2,58.1v3.4M726.2,54.9v-3.3M727.7,54.9v-2.5M727.7,58.1v2.7M731.8,54.9v-2.6M737.9,54.9v-3.4M738.4,54.9v-2.4M739.4,54.9v-2.3M740.4,58.1v3.0M741.9,54.9v-3.4M743.4,54.9v-3.3M745.0,54.9v-2.4M746.0,58.1v2.6" fill="none" stroke="#0000ff" stroke-width="0.9"/>
<path d="M747.2,54.7 L747.7,54.7 L748.3,54.7 L748.8,54.7 L749.4,54.7 L749.9,54.7 L750.4,54.7 L751.0,54.7 L751.5,54.7 L752.1,54.7 L752.6,54.7 L752.6,61.7 L752.1,61.7 L751.5,61.7 L751.0,61.7 L750.4,61.7 L749.9,61.7 L749.4,61.7 L748.8,61.7 L748.3,61.7 L747.7,61.7 L747.2,61.7Z" fill="#0000ff" stroke="none"/>
<path d="M752.4,54.6 L752.9,54.6 L753.5,54.6 L754.0,54.6 L754.5,54.6 L755.0,54.6 L755.5,54.6 L756.1,54.6 L756.6,54.6 L756.6,58.4 L756.1,58.4 L755.5,58.4 L755.0,58.4 L754.5,58.4 L754.0,58.4 L753.5,58.4 L752.9,58.4 L752.4,58.4Z" fill="#0000ff" stroke="none"/>
<path d="M755.0,54.9v-1.9" fill="none" stroke="#0000ff" stroke-width="0.9"/>
<path d="M756.4,56.3 L756.9,56.3 L757.4,56.3 L757.9,56.3 L758.4,56.3 L758.9,56.3 L759.4,56.3 L759.9,56.3 L760.4,56.3 L760.9,56.3 L761.4,56.3 L761.9,56.4 L762.4,56.4 L762.9,56.4 L763.5,56.4 L764.0,56.4 L764.5,56.4 L765.0,56.4 L765.5,56.4 L766.0,56.4 L766.5,56.4 L767.0,56.4 L767.5,56.4 L768.0,56.4 L768.5,56.4 L769.0,56.4 L769.5,56.4 L770.0,56.4 L770.5,56.4 L771.0,56.4 L771.5,56.4 L772.0,56.5 L772.5,56.5 L773.0,56.5 L773.5,56.5 L774.0,56.5 L774.5,56.5 L775.0,56.5 L775.5,56.5 L776.0,56.5 L776.5,56.5 L777.1,56.5 L777.6,56.5 L778.1,56.5 L778.6,56.5 L779.1,56.5 L779.6,56.5 L780.1,56.5 L780.6,56.5 L781.1,56.5 L781.6,56.5 L782.1,56.6 L782.6,56.6 L783.1,56.6 L783.6,56.6 L784.1,56.6 L784.6,56.6 L785.1,56.6 L785.6,56.6 L786.1,56.6 L786.6,56.6 L787.1,56.6 L787.6,56.6 L788.1,56.6 L788.6,56.6 L789.1,56.6 L789.6,56.6 L790.1,56.6 L790.7,56.6 L791.2,56.6 L791.7,56.6 L792.2,56.7 L792.7,56.7 L793.2,56.7 L793.7,56.7 L794.2,56.7 L794.7,56.7 L795.2,56.7 L795.7,56.7 L796.2,56.7 L796.7,56.7 L797.2,56.7 L797.2,62.1 L796.7,62.1 L796.2,62.1 L795.7,62.1 L795.2,62.1 L794.7,62.1 L794.2,62.1 L793.7,62.1 L793.2,62.1 L792.7,62.1 L792.2,62.1 L791.7,62.0 L791.2,62.0 L790.7,62.0 L790.1,62.0 L789.6,62.0 L789.1,62.0 L788.6,62.0 L788.1,62.0 L787.6,62.0 L787.1,62.0 L786.6,62.0 L786.1,62.0 L785.6,62.0 L785.1,62.0 L784.6,62.0 L784.1,62.0 L783.6,62.0 L783.1,62.0 L782.6,62.0 L782.1,62.0 L781.6,61.9 L781.1,61.9 L780.6,61.9 L780.1,61.9 L779.6,61.9 L779.1,61.9 L778.6,61.9 L778.1,61.9 L777.6,61.9 L777.1,61.9 L776.5,61.9 L776.0,61.9 L775.5,61.9 L775.0,61.9 L774.5,61.9 L774.0,61.9 L773.5,61.9 L773.0,61.9 L772.5,61.9 L772.0,61.9 L771.5,61.8 L771.0,61.8 L770.5,61.8 L770.0,61.8 L769.5,61.8 L769.0,61.8 L768.5,61.8 L768.0,61.8 L767.5,61.8 L767.0,61.8 L766.5,61.8 L766.0,61.8 L765.5,61.8 L765.0,61.8 L764.5,61.8 L764.0,61.8 L763.5,61.8 L762.9,61.8 L762.4,61.8 L761.9,61.8 L761.4,61.7 L760.9,61.7 L760.4,61.7 L759.9,61.7 L759.4,61.7 L758.9,61.7 L758.4,61.7 L757.9,61.7 L757.4,61.7 L756.9,61.7 L756.4,61.7Z" fill="#0000ff" stroke="none"/>
<path d="M757.4,56.6v-2.2M770.5,61.5v2.4M781.6,61.6v2.6M787.1,61.7v2.3M787.6,61.7v2.4M797.2,57.0v-2.8" fill="none" stroke="#0000ff" stroke-width="0.9"/>
<path d="M797.0,59.5 L797.5,59.5 L798.0,59.5 L798.5,59.6 L799.0,59.6 L799.5,59.6 L800.0,59.6 L800.5,59.6 L801.0,59.7 L801.5,59.7 L802.0,59.7 L802.5,59.7 L803.0,59.7 L803.5,59.8 L804.0,59.8 L804.5,59.8 L805.0,59.8 L805.5,59.8 L806.0,59.9 L806.5,59.9 L807.0,59.9 L807.5,59.9 L808.0,59.9 L808.5,60.0 L809.0,60.0 L809.5,60.0 L810.0,60.0 L810.5,60.0 L811.0,60.1 L811.5,60.1 L812.0,60.1 L812.5,60.1 L813.0,60.1 L813.5,60.2 L814.0,60.2 L814.5,60.2 L815.0,60.2 L815.5,60.2 L816.0,60.3 L816.5,60.3 L817.0,60.3 L817.5,60.3 L818.0,60.3 L818.5,60.4 L819.0,60.4 L819.5,60.4 L820.0,60.4 L820.5,60.4 L821.0,60.5 L821.5,60.5 L822.0,60.5 L822.0,64.7 L821.5,64.7 L821.0,64.7 L820.5,64.6 L820.0,64.6 L819.5,64.6 L819.0,64.6 L818.5,64.6 L818.0,64.5 L817.5,64.5 L817.0,64.5 L816.5,64.5 L816.0,64.5 L815.5,64.4 L815.0,64.4 L814.5,64.4 L814.0,64.4 L813.5,64.4 L813.0,64.3 L812.5,64.3 L812.0,64.3 L811.5,64.3 L811.0,64.3 L810.5,64.2 L810.0,64.2 L809.5,64.2 L809.0,64.2 L808.5,64.2 L808.0,64.1 L807.5,64.1 L807.0,64.1 L806.5,64.1 L806.0,64.1 L805.5,64.0 L805.0,64.0 L804.5,64.0 L804.0,64.0 L803.5,64.0 L803.0,63.9 L802.5,63.9 L802.0,63.9 L801.5,63.9 L801.0,63.9 L800.5,63.8 L800.0,63.8 L799.5,63.8 L799.0,63.8 L798.5,63.8 L798.0,63.7 L797.5,63.7 L797.0,63.7Z" fill="#0000ff" stroke="none"/>
<path d="M797.0,59.8v-3.0M799.0,59.9v-3.7M800.5,59.9v-2.5M801.5,60.0v-2.7M802.5,60.0v-3.8M803.0,60.0v-3.8M806.5,60.2v-2.9M809.0,60.3v-3.7M811.0,60.4v-3.4M811.5,60.4v-3.4M813.5,60.5v-3.6M814.0,60.5v-3.8M816.5,60.6v-3.7M818.5,60.7v-3.0M821.0,60.8v-2.5" fill="none" stroke="#0000ff" stroke-width="1.0"/>
<path d="M822.0,60.8 L822.5,60.8 L823.0,60.8 L823.5,60.8 L824.0,60.8 L824.5,60.8 L825.0,60.8 L825.5,60.8 L826.0,60.8 L826.5,60.8 L827.0,60.8 L827.5,60.8 L828.0,60.8 L828.5,60.8 L829.0,60.8 L829.5,60.8 L830.0,60.8 L830.5,60.8 L831.0,60.8 L831.5,60.8 L832.0,60.8 L832.5,60.8 L833.1,60.9 L833.6,60.9 L834.1,60.9 L834.6,60.9 L835.1,60.9 L835.6,60.9 L836.1,60.9 L836.6,60.9 L837.1,60.9 L837.6,60.9 L838.1,60.9 L838.6,60.9 L839.1,60.9 L839.6,60.9 L840.1,60.9 L840.6,60.9 L841.1,60.9 L841.6,60.9 L842.1,60.9 L842.6,60.9 L843.1,60.9 L843.6,60.9 L843.6,64.7 L843.1,64.7 L842.6,64.7 L842.1,64.7 L841.6,64.7 L841.1,64.7 L840.6,64.7 L840.1,64.7 L839.6,64.7 L839.1,64.7 L838.6,64.7 L838.1,64.7 L837.6,64.7 L837.1,64.7 L836.6,64.7 L836.1,64.7 L835.6,64.7 L835.1,64.7 L834.6,64.7 L834.1,64.7 L833.6,64.7 L833.1,64.7 L832.5,64.6 L832.0,64.6 L831.5,64.6 L831.0,64.6 L830.5,64.6 L830.0,64.6 L829.5,64.6 L829.0,64.6 L828.5,64.6 L828.0,64.6 L827.5,64.6 L827.0,64.6 L826.5,64.6 L826.0,64.6 L825.5,64.6 L825.0,64.6 L824.5,64.6 L824.0,64.6 L823.5,64.6 L823.0,64.6 L822.5,64.6 L822.0,64.6Z" fill="#0000ff" stroke="none"/>
<path d="M825.0,64.3v3.0M828.5,64.3v2.8M830.5,61.1v-2.6M833.1,64.4v2.9M834.6,64.4v3.0M835.6,64.4v3.0M836.6,64.4v2.9M838.6,61.2v-2.1M839.1,64.4v2.5" fill="none" stroke="#0000ff" stroke-width="0.9"/>
<path d="M843.4,63.7 L843.9,63.7 L844.5,63.7 L845.0,63.7 L845.5,63.7 L846.1,63.7 L846.6,63.7 L847.1,63.8 L847.6,63.8 L848.2,63.8 L848.7,63.8 L849.2,63.8 L849.8,63.8 L850.3,63.8 L850.3,66.0 L849.8,66.0 L849.2,66.0 L848.7,66.0 L848.2,66.0 L847.6,66.0 L847.1,66.0 L846.6,65.9 L846.1,65.9 L845.5,65.9 L845.0,65.9 L844.5,65.9 L843.9,65.9 L843.4,65.9Z" fill="#0000ff" stroke="none"/>
<path d="M843.9,65.6v2.4M848.2,65.7v1.5M849.8,65.7v2.3" fill="none" stroke="#0000ff" stroke-width="0.9"/>
<polyline points="850.2,59.5 850.5,64.0 851.2,100.0 851.9,136.5 852.6,170.0 853.3,198.0 854.1,209.0 854.8,212.0" fill="none" stroke="#0000ff" stroke-width="1.25" stroke-linejoin="round"/>
<path d="M854.1,211.2 L854.6,211.2 L855.1,211.2 L855.6,211.2 L856.1,211.2 L856.6,211.2 L857.1,211.2 L857.6,211.2 L858.1,211.2 L858.6,211.2 L859.1,211.2 L859.1,214.8 L858.6,214.8 L858.1,214.8 L857.6,214.8 L857.1,214.8 L856.6,214.8 L856.1,214.8 L855.6,214.8 L855.1,214.8 L854.6,214.8 L854.1,214.8Z" fill="#0000ff" stroke="none"/>
<path d="M858.3,208.2 L858.8,208.2 L859.3,208.2 L859.8,208.2 L860.3,208.2 L860.8,208.2 L861.3,208.2 L861.8,208.2 L862.3,208.2 L862.8,208.2 L863.3,208.2 L863.8,208.2 L864.3,208.2 L864.8,208.2 L865.3,208.2 L865.3,211.9 L864.8,211.9 L864.3,211.9 L863.8,211.9 L863.3,211.9 L862.8,211.9 L862.3,211.9 L861.8,211.9 L861.3,211.9 L860.8,211.9 L860.3,211.9 L859.8,211.9 L859.3,211.9 L858.8,211.9 L858.3,211.9Z" fill="#0000ff" stroke="none"/>
<path d="M862.8,211.6v1.6M865.3,211.6v1.6" fill="none" stroke="#0000ff" stroke-width="0.9"/>
<path d="M862.0,205.4 L862.5,205.4 L863.0,205.4 L863.5,205.4 L864.0,205.4 L864.5,205.4 L865.0,205.4 L865.5,205.4 L866.0,205.4 L866.5,205.4 L867.0,205.4 L867.5,205.4 L868.0,205.4 L868.5,205.4 L869.0,205.4 L869.5,205.4 L870.0,205.4 L870.5,205.4 L871.0,205.4 L871.5,205.4 L872.0,205.4 L872.5,205.4 L873.0,205.4 L873.5,205.4 L874.0,205.4 L874.5,205.4 L875.0,205.4 L875.5,205.4 L876.0,205.4 L876.5,205.4 L877.0,205.4 L877.5,205.4 L878.0,205.4 L878.5,205.4 L879.0,205.4 L879.5,205.4 L880.0,205.4 L880.5,205.4 L881.0,205.4 L881.6,205.4 L882.1,205.4 L882.6,205.4 L883.1,205.4 L883.6,205.4 L884.1,205.4 L884.6,205.4 L885.1,205.4 L885.6,205.4 L886.1,205.4 L886.6,205.4 L887.1,205.4 L887.6,205.4 L888.1,205.4 L888.6,205.4 L889.1,205.4 L889.6,205.4 L890.1,205.4 L890.6,205.4 L891.1,205.4 L891.6,205.4 L892.1,205.4 L892.6,205.4 L893.1,205.4 L893.6,205.4 L894.1,205.4 L894.6,205.4 L895.1,205.4 L895.6,205.4 L896.1,205.4 L896.6,205.4 L897.1,205.4 L897.6,205.4 L898.1,205.4 L898.6,205.4 L899.1,205.4 L899.6,205.4 L900.1,205.4 L900.6,205.4 L901.1,205.4 L901.6,205.4 L902.1,205.4 L902.6,205.4 L903.1,205.4 L903.6,205.4 L904.1,205.4 L904.6,205.4 L905.1,205.4 L905.6,205.4 L906.1,205.4 L906.6,205.4 L907.1,205.4 L907.6,205.4 L908.1,205.4 L908.6,205.4 L909.1,205.4 L909.6,205.4 L910.1,205.4 L910.6,205.4 L911.1,205.4 L911.6,205.4 L912.1,205.4 L912.6,205.4 L913.1,205.4 L913.6,205.4 L914.1,205.4 L914.6,205.4 L915.1,205.4 L915.6,205.4 L916.1,205.4 L916.6,205.4 L917.1,205.4 L917.6,205.4 L918.1,205.4 L918.6,205.4 L919.2,205.4 L919.7,205.4 L920.2,205.4 L920.7,205.4 L921.2,205.4 L921.7,205.4 L922.2,205.4 L922.7,205.4 L923.2,205.4 L923.7,205.4 L924.2,205.4 L924.7,205.4 L925.2,205.4 L925.7,205.4 L926.2,205.4 L926.7,205.4 L927.2,205.4 L927.7,205.4 L928.2,205.4 L928.7,205.4 L929.2,205.4 L929.7,205.4 L930.2,205.4 L930.7,205.4 L931.2,205.4 L931.7,205.4 L932.2,205.4 L932.7,205.4 L933.2,205.4 L933.7,205.4 L934.2,205.4 L934.7,205.4 L935.2,205.4 L935.7,205.4 L936.2,205.4 L936.7,205.4 L937.2,205.4 L937.7,205.4 L938.2,205.4 L938.2,208.7 L937.7,208.7 L937.2,208.7 L936.7,208.7 L936.2,208.7 L935.7,208.7 L935.2,208.7 L934.7,208.7 L934.2,208.7 L933.7,208.7 L933.2,208.7 L932.7,208.7 L932.2,208.7 L931.7,208.7 L931.2,208.7 L930.7,208.7 L930.2,208.7 L929.7,208.7 L929.2,208.7 L928.7,208.7 L928.2,208.7 L927.7,208.7 L927.2,208.7 L926.7,208.7 L926.2,208.7 L925.7,208.7 L925.2,208.7 L924.7,208.7 L924.2,208.7 L923.7,208.7 L923.2,208.7 L922.7,208.7 L922.2,208.7 L921.7,208.7 L921.2,208.7 L920.7,208.7 L920.2,208.7 L919.7,208.7 L919.2,208.7 L918.6,208.7 L918.1,208.7 L917.6,208.7 L917.1,208.7 L916.6,208.7 L916.1,208.7 L915.6,208.7 L915.1,208.7 L914.6,208.7 L914.1,208.7 L913.6,208.7 L913.1,208.7 L912.6,208.7 L912.1,208.7 L911.6,208.7 L911.1,208.7 L910.6,208.7 L910.1,208.7 L909.6,208.7 L909.1,208.7 L908.6,208.7 L908.1,208.7 L907.6,208.7 L907.1,208.7 L906.6,208.7 L906.1,208.7 L905.6,208.7 L905.1,208.7 L904.6,208.7 L904.1,208.7 L903.6,208.7 L903.1,208.7 L902.6,208.7 L902.1,208.7 L901.6,208.7 L901.1,208.7 L900.6,208.7 L900.1,208.7 L899.6,208.7 L899.1,208.7 L898.6,208.7 L898.1,208.7 L897.6,208.7 L897.1,208.7 L896.6,208.7 L896.1,208.7 L895.6,208.7 L895.1,208.7 L894.6,208.7 L894.1,208.7 L893.6,208.7 L893.1,208.7 L892.6,208.7 L892.1,208.7 L891.6,208.7 L891.1,208.7 L890.6,208.7 L890.1,208.7 L889.6,208.7 L889.1,208.7 L888.6,208.7 L888.1,208.7 L887.6,208.7 L887.1,208.7 L886.6,208.7 L886.1,208.7 L885.6,208.7 L885.1,208.7 L884.6,208.7 L884.1,208.7 L883.6,208.7 L883.1,208.7 L882.6,208.7 L882.1,208.7 L881.6,208.7 L881.0,208.7 L880.5,208.7 L880.0,208.7 L879.5,208.7 L879.0,208.7 L878.5,208.7 L878.0,208.7 L877.5,208.7 L877.0,208.7 L876.5,208.7 L876.0,208.7 L875.5,208.7 L875.0,208.7 L874.5,208.7 L874.0,208.7 L873.5,208.7 L873.0,208.7 L872.5,208.7 L872.0,208.7 L871.5,208.7 L871.0,208.7 L870.5,208.7 L870.0,208.7 L869.5,208.7 L869.0,208.7 L868.5,208.7 L868.0,208.7 L867.5,208.7 L867.0,208.7 L866.5,208.7 L866.0,208.7 L865.5,208.7 L865.0,208.7 L864.5,208.7 L864.0,208.7 L863.5,208.7 L863.0,208.7 L862.5,208.7 L862.0,208.7Z" fill="#0000ff" stroke="none"/>
<path d="M864.5,208.4v2.4M878.0,205.7v-3.1M892.1,208.4v3.2M893.1,205.7v-3.2M901.1,208.4v3.3M903.6,208.4v2.8M908.1,208.4v3.4M909.6,208.4v2.3M925.7,208.4v3.0M937.2,208.4v2.6" fill="none" stroke="#0000ff" stroke-width="0.9"/>
<polyline points="939.5,12.9 939.4,100.0 939.2,137.0" fill="none" stroke="#0000ff" stroke-width="2.6" stroke-linejoin="round"/>
<polyline points="939.2,137.0 939.0,207.0" fill="none" stroke="#0000ff" stroke-width="1.6" stroke-linejoin="round"/>
<polyline points="938.9,207.0 938.9,283.6" fill="none" stroke="#0000ff" stroke-width="1.1" stroke-linejoin="round"/>
<polyline points="939.0,12.9 939.3,150.0 939.6,12.9 940.0,90.0 940.3,12.9 940.7,75.0 941.1,12.9 941.6,68.0 942.0,12.9 942.5,58.0 943.0,12.9 943.4,56.0 944.0,14.0 944.6,52.0 945.3,13.5 946.2,52.0 947.7,13.0 949.0,52.2 950.8,21.5 952.5,47.0 955.2,27.5 956.2,52.0 958.0,36.0 959.6,49.0 961.0,37.0 962.4,47.0 963.8,38.5 965.2,45.0 966.6,38.0 967.8,43.5 969.0,37.5" fill="none" stroke="#0000ff" stroke-width="1.3" stroke-linejoin="round"/>
<path d="M968.9,39.0 L969.4,39.0 L969.9,39.0 L970.4,39.0 L971.0,39.0 L971.5,39.0 L972.0,39.0 L972.5,39.0 L973.0,39.0 L973.5,39.0 L974.0,39.0 L974.5,39.0 L975.1,39.0 L975.6,39.0 L976.1,39.0 L976.6,39.0 L977.1,39.0 L977.6,39.0 L978.1,39.0 L978.6,39.0 L979.2,39.0 L979.7,39.0 L980.2,39.0 L980.7,39.0 L981.2,39.0 L981.7,39.0 L982.2,39.0 L982.7,39.0 L983.3,39.0 L983.8,39.0 L984.3,39.0 L984.8,39.0 L984.8,42.2 L984.3,42.2 L983.8,42.2 L983.3,42.2 L982.7,42.2 L982.2,42.2 L981.7,42.2 L981.2,42.2 L980.7,42.2 L980.2,42.2 L979.7,42.2 L979.2,42.2 L978.6,42.2 L978.1,42.2 L977.6,42.2 L977.1,42.2 L976.6,42.2 L976.1,42.2 L975.6,42.2 L975.1,42.2 L974.5,42.2 L974.0,42.2 L973.5,42.2 L973.0,42.2 L972.5,42.2 L972.0,42.2 L971.5,42.2 L971.0,42.2 L970.4,42.2 L969.9,42.2 L969.4,42.2 L968.9,42.2Z" fill="#0000ff" stroke="none"/>
<path d="M977.1,41.9v1.6" fill="none" stroke="#0000ff" stroke-width="0.9"/>
<polyline points="984.6,41.0 985.4,60.0 986.0,69.8 986.4,30.8 986.9,62.0 987.4,67.0" fill="none" stroke="#0000ff" stroke-width="1.2" stroke-linejoin="round"/>
<polyline points="987.0,66.0 987.8,63.5 988.8,60.0 990.0,54.5 991.4,51.2 993.4,51.0 995.2,54.0 996.7,54.0 998.5,50.7 1000.3,50.7 1002.0,53.0 1004.0,56.0 1006.8,64.1 1009.1,76.2 1010.6,95.9 1011.7,115.0 1012.6,150.0 1013.4,187.0 1014.5,196.0" fill="none" stroke="#0000ff" stroke-width="1.8" stroke-linejoin="round"/>
<polyline points="1014.4,196.5 1015.4,199.0 1016.4,204.0" fill="none" stroke="#0000ff" stroke-width="1.4" stroke-linejoin="round"/>
<polyline points="1017.3,87.6 1017.4,208.0" fill="none" stroke="#0000ff" stroke-width="1.1" stroke-linejoin="round"/>
<path d="M1016.8,188.0 L1017.3,188.0 L1017.8,188.0 L1018.4,188.0 L1018.9,188.0 L1019.4,188.0 L1019.4,210.0 L1018.9,210.0 L1018.4,210.0 L1017.8,210.0 L1017.3,210.0 L1016.8,210.0Z" fill="#0000ff" stroke="none"/>
<polyline points="1017.2,207.0 1018.0,196.0 1018.7,211.5 1019.5,198.0 1020.3,211.0 1021.2,199.5 1022.0,210.5 1022.8,200.0 1023.7,209.0" fill="none" stroke="#0000ff" stroke-width="1.0" stroke-linejoin="round"/>
<path d="M1019.0,201.8 L1019.5,201.8 L1020.0,201.8 L1020.5,201.8 L1021.0,201.8 L1021.5,201.8 L1022.0,201.8 L1022.5,201.8 L1023.0,201.8 L1023.5,201.9 L1024.0,199.9 L1024.5,199.9 L1025.0,199.9 L1025.5,199.9 L1026.0,200.9 L1026.5,200.9 L1027.0,201.0 L1027.5,201.0 L1028.0,201.0 L1028.5,201.0 L1029.0,200.0 L1029.5,200.0 L1030.0,200.0 L1030.5,200.0 L1031.0,200.1 L1031.0,205.6 L1030.5,205.5 L1030.0,205.5 L1029.5,205.5 L1029.0,205.5 L1028.5,206.5 L1028.0,206.5 L1027.5,206.5 L1027.0,206.5 L1026.5,206.4 L1026.0,206.4 L1025.5,205.4 L1025.0,205.4 L1024.5,205.4 L1024.0,205.4 L1023.5,207.4 L1023.0,207.3 L1022.5,207.3 L1022.0,207.3 L1021.5,207.3 L1021.0,207.3 L1020.5,207.3 L1020.0,207.3 L1019.5,207.3 L1019.0,207.2Z" fill="#0000ff" stroke="none"/>
<path d="M1019.5,202.1v-2.5M1022.5,207.0v2.5M1023.5,207.1v3.2M1025.0,205.1v2.4M1026.0,206.1v2.9M1027.5,201.3v-2.6M1028.5,201.3v-2.5" fill="none" stroke="#0000ff" stroke-width="0.9"/>
<polyline points="1030.5,203.3 1030.7,203.3 1030.8,201.4 1031.0,201.4 1031.1,201.4 1031.2,201.4 1031.4,201.4 1031.5,199.5 1031.7,199.5 1031.8,199.5 1032.0,199.5 1032.1,199.5 1032.3,197.6 1032.4,197.6 1032.5,197.6 1032.6,197.6 1032.8,197.6 1032.9,195.7 1033.0,195.7 1033.1,195.7 1033.3,195.7 1033.4,193.8 1033.5,193.8 1033.6,193.8 1033.8,193.8 1033.9,193.8 1034.0,191.9 1034.1,191.9 1034.3,191.9 1034.4,191.9" fill="none" stroke="#0000ff" stroke-width="2.6" stroke-linejoin="round"/>
<polyline points="1034.4,191.9 1034.6,191.9 1034.8,191.9 1035.0,191.9 1035.2,193.8 1035.4,193.8 1035.5,193.8 1035.7,193.8 1035.9,193.8 1036.1,195.7 1036.3,195.7 1036.5,195.7 1036.8,195.7 1037.1,195.7 1037.3,195.7 1037.6,197.6 1037.9,197.6 1038.2,197.6 1038.4,197.6 1038.7,197.6 1039.0,199.5 1039.3,199.5 1039.6,199.5 1039.9,199.5 1040.2,199.5 1040.5,199.5 1040.8,199.5 1041.2,201.4 1041.5,201.4 1041.8,201.4 1042.1,201.4 1042.4,201.4 1042.7,201.4 1043.0,201.4 1043.4,203.3 1043.7,203.3 1044.1,203.3 1044.4,203.3 1044.8,203.3 1045.1,203.3 1045.5,203.3 1045.8,203.3 1046.2,203.3 1046.5,203.3 1046.9,205.2 1047.2,205.2 1047.6,205.2 1047.9,205.2 1048.3,205.2 1048.6,205.2 1049.0,205.2 1049.4,205.2 1049.7,205.2 1050.1,205.2 1050.5,207.1 1050.8,207.1 1051.2,207.1 1051.5,207.1 1051.9,207.1 1052.3,207.1 1052.6,207.1 1053.0,207.1" fill="none" stroke="#0000ff" stroke-width="3.0" stroke-linejoin="round"/>
<path d="M1052.0,206.3 L1052.5,206.4 L1053.0,206.4 L1053.5,206.5 L1054.0,206.5 L1054.5,206.6 L1055.0,206.6 L1055.5,206.7 L1056.0,206.7 L1056.5,206.8 L1057.0,206.8 L1057.0,210.8 L1056.5,210.8 L1056.0,210.7 L1055.5,210.7 L1055.0,210.6 L1054.5,210.6 L1054.0,210.5 L1053.5,210.5 L1053.0,210.4 L1052.5,210.4 L1052.0,210.3Z" fill="#0000ff" stroke="none"/>
<path d="M1053.0,206.7v-1.8M1054.5,206.9v-1.7M1056.0,210.4v2.5" fill="none" stroke="#0000ff" stroke-width="0.9"/>
<path d="M1056.5,207.5 L1057.0,207.5 L1057.5,207.5 L1058.0,207.5 L1058.5,207.5 L1059.0,207.5 L1059.5,207.5 L1060.0,207.5 L1060.5,207.5 L1061.0,207.5 L1061.5,207.5 L1062.0,207.5 L1062.5,207.5 L1063.0,207.5 L1063.5,207.5 L1064.0,207.5 L1064.5,207.5 L1065.0,207.5 L1065.5,207.5 L1066.0,207.5 L1066.5,207.5 L1067.0,207.5 L1067.5,207.5 L1068.0,207.5 L1068.5,207.5 L1069.0,207.5 L1069.5,207.5 L1070.0,207.5 L1070.5,207.5 L1071.0,207.5 L1071.5,207.5 L1072.0,207.5 L1072.5,207.5 L1073.0,207.5 L1073.5,207.5 L1074.0,207.5 L1074.5,207.5 L1075.0,207.5 L1075.5,207.5 L1076.0,207.5 L1076.5,207.5 L1077.0,207.5 L1077.5,207.5 L1078.0,207.5 L1078.5,207.5 L1079.0,207.5 L1079.5,207.5 L1080.0,207.5 L1080.5,207.5 L1081.0,207.5 L1081.5,207.5 L1082.0,207.5 L1082.5,207.5 L1083.0,207.5 L1083.5,207.5 L1084.0,207.5 L1084.5,207.5 L1085.0,207.5 L1085.5,207.5 L1086.0,207.5 L1086.5,207.5 L1087.0,207.5 L1087.5,207.5 L1088.0,207.5 L1088.5,207.5 L1089.0,207.5 L1089.5,207.5 L1090.0,207.5 L1090.5,207.5 L1091.0,207.5 L1091.5,207.5 L1092.0,207.5 L1092.0,211.2 L1091.5,211.2 L1091.0,211.2 L1090.5,211.2 L1090.0,211.2 L1089.5,211.2 L1089.0,211.2 L1088.5,211.2 L1088.0,211.2 L1087.5,211.2 L1087.0,211.2 L1086.5,211.2 L1086.0,211.2 L1085.5,211.2 L1085.0,211.2 L1084.5,211.2 L1084.0,211.2 L1083.5,211.2 L1083.0,211.2 L1082.5,211.2 L1082.0,211.2 L1081.5,211.2 L1081.0,211.2 L1080.5,211.2 L1080.0,211.2 L1079.5,211.2 L1079.0,211.2 L1078.5,211.2 L1078.0,211.2 L1077.5,211.2 L1077.0,211.2 L1076.5,211.2 L1076.0,211.2 L1075.5,211.2 L1075.0,211.2 L1074.5,211.2 L1074.0,211.2 L1073.5,211.2 L1073.0,211.2 L1072.5,211.2 L1072.0,211.2 L1071.5,211.2 L1071.0,211.2 L1070.5,211.2 L1070.0,211.2 L1069.5,211.2 L1069.0,211.2 L1068.5,211.2 L1068.0,211.2 L1067.5,211.2 L1067.0,211.2 L1066.5,211.2 L1066.0,211.2 L1065.5,211.2 L1065.0,211.2 L1064.5,211.2 L1064.0,211.2 L1063.5,211.2 L1063.0,211.2 L1062.5,211.2 L1062.0,211.2 L1061.5,211.2 L1061.0,211.2 L1060.5,211.2 L1060.0,211.2 L1059.5,211.2 L1059.0,211.2 L1058.5,211.2 L1058.0,211.2 L1057.5,211.2 L1057.0,211.2 L1056.5,211.2Z" fill="#0000ff" stroke="none"/>
<path d="M1056.5,207.8v-3.0M1058.0,207.8v-3.0M1067.0,210.8v2.7M1077.5,207.8v-2.2M1078.5,207.8v-2.6M1079.5,207.8v-2.3M1082.5,207.8v-2.7M1086.0,210.8v2.0M1087.5,207.8v-2.3M1090.0,207.8v-2.9M1090.5,210.8v2.9M1091.0,210.8v2.2" fill="none" stroke="#0000ff" stroke-width="0.9"/>
<path d="M1092.0,206.7 L1092.5,206.7 L1093.0,206.0 L1093.5,206.0 L1094.0,206.0 L1094.5,206.0 L1095.0,206.0 L1095.5,205.3 L1096.0,205.3 L1096.5,205.3 L1097.1,205.2 L1097.6,206.6 L1098.1,206.6 L1098.6,206.6 L1099.1,206.6 L1099.6,205.9 L1100.1,205.9 L1100.6,205.9 L1101.1,205.9 L1101.6,205.9 L1102.1,206.6 L1102.6,206.6 L1103.1,206.6 L1103.6,206.6 L1104.1,206.6 L1104.6,206.6 L1105.1,205.2 L1105.6,205.2 L1106.1,205.2 L1106.7,205.2 L1107.2,205.1 L1107.7,205.1 L1108.2,206.5 L1108.7,206.5 L1109.2,206.5 L1109.7,205.8 L1110.2,205.8 L1110.7,205.8 L1111.2,205.8 L1111.7,205.8 L1112.2,205.8 L1112.7,205.8 L1113.2,205.8 L1113.7,205.8 L1114.2,205.8 L1114.7,205.8 L1115.2,205.8 L1115.7,205.8 L1116.2,205.8 L1116.8,205.7 L1117.3,205.7 L1117.8,205.7 L1118.3,205.7 L1118.8,205.7 L1119.3,205.0 L1119.8,205.0 L1120.3,205.0 L1120.8,205.7 L1121.3,205.7 L1121.3,210.9 L1120.8,210.9 L1120.3,210.2 L1119.8,210.2 L1119.3,210.2 L1118.8,210.9 L1118.3,210.9 L1117.8,210.9 L1117.3,210.9 L1116.8,210.9 L1116.2,211.0 L1115.7,211.0 L1115.2,211.0 L1114.7,211.0 L1114.2,211.0 L1113.7,211.0 L1113.2,211.0 L1112.7,211.0 L1112.2,211.0 L1111.7,211.0 L1111.2,211.0 L1110.7,211.0 L1110.2,211.0 L1109.7,211.0 L1109.2,211.7 L1108.7,211.7 L1108.2,211.7 L1107.7,210.3 L1107.2,210.3 L1106.7,210.3 L1106.1,210.4 L1105.6,210.4 L1105.1,210.4 L1104.6,211.8 L1104.1,211.8 L1103.6,211.8 L1103.1,211.8 L1102.6,211.8 L1102.1,211.8 L1101.6,211.1 L1101.1,211.1 L1100.6,211.1 L1100.1,211.1 L1099.6,211.1 L1099.1,211.8 L1098.6,211.8 L1098.1,211.8 L1097.6,211.8 L1097.1,210.4 L1096.5,210.5 L1096.0,210.5 L1095.5,210.5 L1095.0,211.2 L1094.5,211.2 L1094.0,211.2 L1093.5,211.2 L1093.0,211.2 L1092.5,211.9 L1092.0,211.9Z" fill="#0000ff" stroke="none"/>
<path d="M1094.0,206.3v-1.6M1098.6,211.5v1.4M1099.1,206.9v-1.7M1101.6,206.2v-1.4M1117.8,206.0v-1.5M1118.8,206.0v-1.2M1119.8,205.3v-1.7M1120.8,206.0v-1.6" fill="none" stroke="#0000ff" stroke-width="0.9"/>
<line x1="718.30" y1="57.00" x2="867.20" y2="57.00" stroke="#000" stroke-width="1.25" stroke-dasharray="3.1 1.9"/>
<line x1="850.40" y1="66.10" x2="868.60" y2="66.10" stroke="#000" stroke-width="1.25" stroke-dasharray="3.1 1.9"/>
<line x1="717.90" y1="96.60" x2="849.00" y2="96.60" stroke="#000000" stroke-width="2.6" stroke-dasharray="10.7 6.75"/>
<polyline points="729.6,90.6 717.8,96.6 729.6,102.6" fill="none" stroke="#000000" stroke-width="2.4" stroke-linejoin="miter" stroke-linecap="butt"/>
<polyline points="837.6,90.6 849.4,96.6 837.6,102.6" fill="none" stroke="#000000" stroke-width="2.4" stroke-linejoin="miter" stroke-linecap="butt"/>
<text x="730.60" y="127.50" font-size="26.6" font-family='"DejaVu Sans", "Liberation Sans", sans-serif' text-anchor="start" fill="#000000" textLength="80.0" lengthAdjust="spacingAndGlyphs" >8.4 µs</text>
<text x="827.7" y="46.6" font-family='"DejaVu Sans", "Liberation Sans", sans-serif' font-weight="bold" font-size="17.2" fill="#000000" textLength="98.2" lengthAdjust="spacingAndGlyphs">ΔV<tspan font-size="12.5" dy="4.6">gs</tspan><tspan dy="-4.6">=1.0V</tspan></text>
<text x="0" y="0" transform="translate(1048.9 180.0) skewX(-7.5)" font-family='"DejaVu Sans", "Liberation Sans", sans-serif' font-style="italic" font-size="39" fill="#0000ff">V</text>
<text x="1073.60" y="189.60" font-size="26.6" font-family='"DejaVu Sans", "Liberation Sans", sans-serif' text-anchor="start" fill="#0000ff" textLength="28.6" lengthAdjust="spacingAndGlyphs" >gs</text>
<text x="799.00" y="328.90" font-size="26" font-family='"DejaVu Sans", "Liberation Sans", sans-serif' text-anchor="start" fill="#000000" font-weight="bold" textLength="217.6" lengthAdjust="spacingAndGlyphs" >Trench MOSFET</text>
<rect x="712.20" y="334.50" width="412.30" height="288.30" fill="none" stroke="#000000" stroke-width="1.35"/>
<line x1="794.66" y1="622.80" x2="794.66" y2="617.10" stroke="#000000" stroke-width="1.3" />
<line x1="794.66" y1="334.50" x2="794.66" y2="340.20" stroke="#000000" stroke-width="1.3" />
<line x1="877.12" y1="622.80" x2="877.12" y2="617.10" stroke="#000000" stroke-width="1.3" />
<line x1="877.12" y1="334.50" x2="877.12" y2="340.20" stroke="#000000" stroke-width="1.3" />
<line x1="959.58" y1="622.80" x2="959.58" y2="617.10" stroke="#000000" stroke-width="1.3" />
<line x1="959.58" y1="334.50" x2="959.58" y2="340.20" stroke="#000000" stroke-width="1.3" />
<line x1="1042.04" y1="622.80" x2="1042.04" y2="617.10" stroke="#000000" stroke-width="1.3" />
<line x1="1042.04" y1="334.50" x2="1042.04" y2="340.20" stroke="#000000" stroke-width="1.3" />
<line x1="753.43" y1="622.80" x2="753.43" y2="620.00" stroke="#000000" stroke-width="1.3" />
<line x1="753.43" y1="334.50" x2="753.43" y2="337.30" stroke="#000000" stroke-width="1.3" />
<line x1="835.89" y1="622.80" x2="835.89" y2="620.00" stroke="#000000" stroke-width="1.3" />
<line x1="835.89" y1="334.50" x2="835.89" y2="337.30" stroke="#000000" stroke-width="1.3" />
<line x1="918.35" y1="622.80" x2="918.35" y2="620.00" stroke="#000000" stroke-width="1.3" />
<line x1="918.35" y1="334.50" x2="918.35" y2="337.30" stroke="#000000" stroke-width="1.3" />
<line x1="1000.81" y1="622.80" x2="1000.81" y2="620.00" stroke="#000000" stroke-width="1.3" />
<line x1="1000.81" y1="334.50" x2="1000.81" y2="337.30" stroke="#000000" stroke-width="1.3" />
<line x1="1083.27" y1="622.80" x2="1083.27" y2="620.00" stroke="#000000" stroke-width="1.3" />
<line x1="1083.27" y1="334.50" x2="1083.27" y2="337.30" stroke="#000000" stroke-width="1.3" />
<line x1="712.20" y1="502.67" x2="720.70" y2="502.67" stroke="#000000" stroke-width="1.3" />
<line x1="712.20" y1="382.55" x2="720.70" y2="382.55" stroke="#000000" stroke-width="1.3" />
<line x1="712.20" y1="598.77" x2="717.20" y2="598.77" stroke="#000000" stroke-width="1.3" />
<line x1="712.20" y1="574.75" x2="717.20" y2="574.75" stroke="#000000" stroke-width="1.3" />
<line x1="712.20" y1="550.72" x2="717.20" y2="550.72" stroke="#000000" stroke-width="1.3" />
<line x1="712.20" y1="526.70" x2="717.20" y2="526.70" stroke="#000000" stroke-width="1.3" />
<line x1="712.20" y1="478.65" x2="717.20" y2="478.65" stroke="#000000" stroke-width="1.3" />
<line x1="712.20" y1="454.62" x2="717.20" y2="454.62" stroke="#000000" stroke-width="1.3" />
<line x1="712.20" y1="430.60" x2="717.20" y2="430.60" stroke="#000000" stroke-width="1.3" />
<line x1="712.20" y1="406.57" x2="717.20" y2="406.57" stroke="#000000" stroke-width="1.3" />
<line x1="712.20" y1="358.53" x2="717.20" y2="358.53" stroke="#000000" stroke-width="1.3" />
<line x1="1124.50" y1="526.70" x2="1119.50" y2="526.70" stroke="#000000" stroke-width="1.3" />
<line x1="1124.50" y1="430.60" x2="1119.50" y2="430.60" stroke="#000000" stroke-width="1.3" />
<line x1="1124.50" y1="574.75" x2="1121.90" y2="574.75" stroke="#000000" stroke-width="1.3" />
<line x1="1124.50" y1="478.65" x2="1121.90" y2="478.65" stroke="#000000" stroke-width="1.3" />
<line x1="1124.50" y1="382.55" x2="1121.90" y2="382.55" stroke="#000000" stroke-width="1.3" />
<text x="707.50" y="631.14" font-size="23.3" font-family='"Liberation Sans", Arial, sans-serif' text-anchor="end" fill="#000000" >0</text>
<text x="707.50" y="583.09" font-size="23.3" font-family='"Liberation Sans", Arial, sans-serif' text-anchor="end" fill="#000000" >200</text>
<text x="707.50" y="535.04" font-size="23.3" font-family='"Liberation Sans", Arial, sans-serif' text-anchor="end" fill="#000000" >400</text>
<text x="707.50" y="486.99" font-size="23.3" font-family='"Liberation Sans", Arial, sans-serif' text-anchor="end" fill="#000000" >600</text>
<text x="707.50" y="438.94" font-size="23.3" font-family='"Liberation Sans", Arial, sans-serif' text-anchor="end" fill="#000000" >800</text>
<text x="707.50" y="390.89" font-size="23.3" font-family='"Liberation Sans", Arial, sans-serif' text-anchor="end" fill="#000000" >1000</text>
<text x="707.50" y="342.84" font-size="23.3" font-family='"Liberation Sans", Arial, sans-serif' text-anchor="end" fill="#000000" >1200</text>
<text x="1127.10" y="631.14" font-size="23.3" font-family='"Liberation Sans", Arial, sans-serif' text-anchor="start" fill="#000000" >0</text>
<text x="1127.10" y="535.04" font-size="23.3" font-family='"Liberation Sans", Arial, sans-serif' text-anchor="start" fill="#000000" >100</text>
<text x="1127.10" y="438.94" font-size="23.3" font-family='"Liberation Sans", Arial, sans-serif' text-anchor="start" fill="#000000" >200</text>
<text x="1127.10" y="342.84" font-size="23.3" font-family='"Liberation Sans", Arial, sans-serif' text-anchor="start" fill="#000000" >300</text>
<text x="712.20" y="647.30" font-size="23.3" font-family='"Liberation Sans", Arial, sans-serif' text-anchor="middle" fill="#000000" >0</text>
<text x="794.66" y="647.30" font-size="23.3" font-family='"Liberation Sans", Arial, sans-serif' text-anchor="middle" fill="#000000" >5</text>
<text x="877.12" y="647.30" font-size="23.3" font-family='"Liberation Sans", Arial, sans-serif' text-anchor="middle" fill="#000000" >10</text>
<text x="959.58" y="647.30" font-size="23.3" font-family='"Liberation Sans", Arial, sans-serif' text-anchor="middle" fill="#000000" >15</text>
<text x="1042.04" y="647.30" font-size="23.3" font-family='"Liberation Sans", Arial, sans-serif' text-anchor="middle" fill="#000000" >20</text>
<text x="1124.50" y="647.30" font-size="23.3" font-family='"Liberation Sans", Arial, sans-serif' text-anchor="middle" fill="#000000" >25</text>
<text transform="translate(651.2 466.0) rotate(-90)" text-anchor="middle" font-family='"Liberation Sans", Arial, sans-serif' font-size="23.8" fill="#000000" textLength="217.3" lengthAdjust="spacingAndGlyphs">Drain voltage V<tspan font-size="15.8" dy="5.8">ds</tspan><tspan dy="-5.8"> [V]</tspan></text>
<text transform="translate(1194.1 464.5) rotate(-90)" text-anchor="middle" font-family='"Liberation Sans", Arial, sans-serif' font-size="23.8" fill="#000000" textLength="196.5" lengthAdjust="spacingAndGlyphs">Drain current I<tspan font-size="15.8" dy="5.8">d</tspan><tspan dy="-5.8"> [A]</tspan></text>
<text x="859.00" y="674.50" font-size="24.2" font-family='"Liberation Sans", Arial, sans-serif' text-anchor="start" fill="#000000" textLength="102.0" lengthAdjust="spacingAndGlyphs" >Time [µs]</text>
<text x="918.20" y="717.90" font-size="25" font-family='"Liberation Serif", serif' text-anchor="middle" fill="#000000" >(b)</text>
<path d="M712.2,619.3 L712.7,619.3 L713.3,619.3 L713.8,619.3 L714.3,619.3 L714.9,619.3 L715.4,619.3 L715.9,619.3 L716.5,619.3 L717.0,619.3 L717.5,619.3 L718.1,619.3 L718.6,619.3 L718.6,622.3 L718.1,622.3 L717.5,622.3 L717.0,622.3 L716.5,622.3 L715.9,622.3 L715.4,622.3 L714.9,622.3 L714.3,622.3 L713.8,622.3 L713.3,622.3 L712.7,622.3 L712.2,622.3Z" fill="#008000" stroke="none"/>
<polyline points="718.4,620.5 719.2,616.0 722.7,590.0 731.0,537.1 737.2,502.0 744.4,471.0 749.6,453.9" fill="none" stroke="#008000" stroke-width="2.0" stroke-linejoin="round"/>
<polyline points="749.2,456.0 749.3,454.0 749.4,454.0 749.5,454.0 749.6,454.0 749.7,454.0 749.8,452.0 749.9,452.0 749.9,452.0 750.0,452.0 750.1,452.0 750.2,450.0 750.3,450.0 750.4,450.0 750.5,450.0 750.6,450.0 750.7,448.0 750.8,448.0 750.9,448.0 751.0,448.0 751.1,448.0 751.2,446.0 751.2,446.0 751.3,446.0 751.4,446.0 751.5,446.0 751.6,444.0 751.7,444.0 751.8,444.0 751.9,444.0 752.0,444.0 752.1,442.0 752.2,442.0 752.3,442.0 752.4,442.0 752.5,442.0 752.5,440.0 752.6,440.0 752.7,440.0 752.8,440.0 752.9,440.0 753.0,438.0 753.1,438.0 753.2,438.0 753.3,438.0 753.4,438.0 753.5,436.0 753.6,436.0 753.7,436.0 753.8,436.0 753.8,436.0 753.9,434.0 754.0,434.0 754.1,434.0 754.2,434.0 754.3,434.0 754.4,432.0 754.5,432.0 754.6,432.0 754.7,432.0 754.8,432.0 754.9,432.0 755.0,430.0 755.1,430.0 755.1,430.0 755.2,430.0 755.3,430.0 755.4,428.0 755.5,428.0 755.6,428.0 755.7,428.0 755.8,428.0 755.9,426.0 756.0,426.0 756.1,426.0 756.3,426.0 756.4,426.0 756.5,424.0 756.6,424.0 756.7,424.0 756.8,424.0 756.9,424.0 757.1,422.0 757.2,422.0 757.3,422.0 757.4,422.0 757.5,422.0 757.6,420.0 757.8,420.0 757.9,420.0 758.0,420.0 758.1,420.0 758.2,420.0 758.3,418.0 758.4,418.0 758.6,418.0 758.7,418.0 758.8,418.0 758.9,416.0 759.0,416.0 759.1,416.0 759.2,416.0 759.4,416.0 759.5,414.0 759.6,414.0 759.7,414.0 759.8,414.0 759.9,414.0 760.0,412.0 760.2,412.0 760.3,412.0 760.4,412.0 760.5,412.0 760.6,412.0 760.7,410.0 760.9,410.0 761.0,410.0 761.1,410.0 761.2,410.0 761.3,408.0 761.4,408.0 761.5,408.0 761.7,408.0 761.8,408.0 761.9,406.0 762.0,406.0 762.1,406.0 762.3,406.0 762.4,406.0 762.5,404.0 762.6,404.0 762.8,404.0 762.9,404.0 763.0,404.0 763.2,402.0 763.3,402.0 763.4,402.0 763.5,402.0 763.7,402.0 763.8,402.0 763.9,400.0 764.1,400.0 764.2,400.0 764.3,400.0 764.4,400.0 764.6,398.0 764.7,398.0 764.8,398.0 765.0,398.0 765.1,398.0 765.2,396.0 765.3,396.0 765.5,396.0 765.6,396.0 765.7,396.0 765.9,394.0 766.0,394.0 766.1,394.0 766.2,394.0 766.4,394.0 766.5,392.0" fill="none" stroke="#008000" stroke-width="2.5" stroke-linejoin="round"/>
<polyline points="766.0,394.0 766.1,394.0 766.3,394.0 766.5,394.0 766.6,392.0 766.8,392.0 766.9,392.0 767.0,392.0 767.2,392.0 767.4,392.0 767.5,390.0 767.6,390.0 767.8,390.0 768.0,390.0 768.1,390.0 768.2,388.0 768.4,388.0 768.6,388.0 768.7,388.0 768.9,388.0 769.0,386.0 769.2,386.0 769.3,386.0 769.5,386.0 769.6,386.0 769.8,384.0 769.9,384.0 770.1,384.0 770.2,384.0 770.4,384.0 770.6,382.0 770.7,382.0 770.9,382.0 771.1,382.0 771.3,382.0 771.4,382.0 771.6,380.0 771.8,380.0 772.0,380.0 772.1,380.0 772.3,380.0 772.5,378.0 772.7,378.0 772.8,378.0 773.0,378.0 773.2,378.0 773.4,378.0 773.6,376.0 773.7,376.0 773.9,376.0 774.1,376.0 774.3,376.0 774.4,374.0 774.6,374.0 774.8,374.0 775.0,374.0 775.1,374.0 775.3,374.0 775.5,372.0 775.7,372.0 775.9,372.0 776.0,372.0 776.2,372.0 776.4,370.0 776.6,370.0 776.7,370.0 776.9,370.0 777.1,370.0 777.3,370.0 777.4,368.0 777.6,368.0 777.8,368.0 778.0,368.0 778.1,368.0 778.3,366.0 778.5,366.0 778.8,366.0 779.0,366.0 779.3,366.0 779.6,366.0 779.8,364.0 780.1,364.0 780.4,364.0 780.6,364.0 780.9,364.0 781.1,364.0 781.4,362.0 781.7,362.0 781.9,362.0 782.2,362.0 782.5,362.0 782.7,362.0 783.0,360.0 783.3,360.0 783.6,360.0 784.0,360.0 784.3,360.0 784.6,360.0 784.9,360.0 785.2,360.0 785.6,358.0 785.9,358.0 786.2,358.0 786.5,358.0 786.8,358.0 787.1,358.0 787.5,358.0 787.8,356.0 788.1,356.0 788.4,356.0 788.7,356.0 789.1,356.0 789.4,356.0 789.7,356.0" fill="none" stroke="#008000" stroke-width="3.3" stroke-linejoin="round"/>
<path d="M789.5,351.7 L790.0,351.7 L790.5,351.7 L791.0,351.7 L791.5,351.7 L792.0,351.7 L792.5,351.7 L793.0,351.7 L793.5,351.7 L794.0,351.7 L794.5,351.7 L795.0,351.7 L795.5,351.7 L796.0,351.7 L796.5,351.7 L797.0,351.7 L797.6,351.7 L798.1,351.7 L798.6,351.7 L799.1,351.7 L799.6,351.7 L800.1,351.7 L800.6,351.7 L801.1,351.7 L801.6,351.7 L802.1,351.7 L802.6,351.7 L803.1,351.7 L803.6,351.7 L804.1,351.7 L804.6,351.7 L804.6,357.5 L804.1,357.5 L803.6,357.5 L803.1,357.5 L802.6,357.5 L802.1,357.5 L801.6,357.5 L801.1,357.5 L800.6,357.5 L800.1,357.5 L799.6,357.5 L799.1,357.5 L798.6,357.5 L798.1,357.5 L797.6,357.5 L797.0,357.5 L796.5,357.5 L796.0,357.5 L795.5,357.5 L795.0,357.5 L794.5,357.5 L794.0,357.5 L793.5,357.5 L793.0,357.5 L792.5,357.5 L792.0,357.5 L791.5,357.5 L791.0,357.5 L790.5,357.5 L790.0,357.5 L789.5,357.5Z" fill="#008000" stroke="none"/>
<path d="M791.5,352.0v-2.0M793.5,357.2v2.5M795.0,357.2v1.9M798.6,357.2v1.7M801.6,352.0v-1.9M804.6,357.2v2.3" fill="none" stroke="#008000" stroke-width="0.9"/>
<polyline points="804.4,356.0 804.8,356.0 805.1,358.0 805.5,358.0 805.8,358.0 806.2,358.0 806.6,358.0 806.9,358.0 807.3,358.0 807.6,358.0 807.9,360.0 808.2,360.0 808.4,360.0 808.7,360.0 809.0,360.0 809.3,360.0 809.6,360.0 809.9,362.0 810.1,362.0 810.4,362.0 810.7,362.0 811.0,362.0 811.3,362.0 811.6,362.0 811.8,364.0 812.1,364.0 812.4,364.0 812.7,364.0 813.0,364.0 813.3,364.0 813.5,364.0 813.8,366.0 814.1,366.0 814.4,366.0 814.7,366.0 815.0,366.0 815.2,366.0 815.5,366.0 815.8,368.0 816.1,368.0 816.4,368.0 816.7,368.0 817.0,368.0 817.3,368.0 817.5,368.0 817.8,370.0 818.1,370.0 818.4,370.0 818.7,370.0 819.0,370.0 819.3,370.0 819.6,370.0 819.9,372.0 820.2,372.0 820.4,372.0 820.7,372.0 821.0,372.0 821.3,372.0 821.6,372.0 821.9,374.0 822.2,374.0 822.5,374.0 822.8,374.0 823.0,374.0 823.3,374.0 823.6,374.0 823.9,376.0 824.2,376.0 824.5,376.0 824.8,376.0 825.1,376.0 825.4,376.0 825.7,376.0 825.9,378.0 826.2,378.0 826.5,378.0 826.8,378.0 827.1,378.0 827.4,378.0 827.6,380.0 827.9,380.0 828.2,380.0 828.5,380.0 828.8,380.0 829.0,380.0 829.3,380.0 829.6,382.0 829.9,382.0 830.1,382.0 830.4,382.0 830.7,382.0 831.0,382.0 831.2,382.0 831.5,384.0 831.8,384.0 832.1,384.0 832.3,384.0 832.6,384.0 832.9,384.0 833.1,384.0 833.4,386.0 833.7,386.0 834.0,386.0 834.2,386.0 834.5,386.0 834.8,386.0 835.1,388.0 835.4,388.0 835.6,388.0 835.9,388.0 836.2,388.0 836.5,388.0 836.7,388.0 837.0,390.0 837.3,390.0 837.6,390.0 837.8,390.0 838.1,390.0 838.4,390.0 838.6,392.0 838.9,392.0 839.1,392.0 839.4,392.0 839.6,392.0 839.9,392.0 840.1,392.0 840.4,394.0 840.6,394.0 840.9,394.0 841.1,394.0 841.4,394.0 841.6,394.0 841.9,396.0 842.1,396.0 842.4,396.0 842.6,396.0 842.9,396.0 843.1,396.0 843.4,398.0 843.6,398.0 843.9,398.0 844.1,398.0 844.4,398.0 844.6,398.0 844.9,400.0 845.1,400.0 845.4,400.0 845.6,400.0 845.9,400.0 846.1,400.0 846.4,402.0 846.6,402.0 846.9,402.0 847.1,402.0 847.4,402.0 847.6,402.0 847.9,404.0 848.1,404.0 848.3,404.0 848.6,404.0 848.8,404.0 849.1,404.0 849.3,406.0 849.6,406.0 849.8,406.0 850.1,406.0 850.3,406.0 850.5,406.0 850.8,408.0 851.0,408.0 851.3,408.0 851.5,408.0 851.8,408.0 852.0,408.0 852.3,410.0 852.5,410.0 852.7,410.0 852.9,410.0 853.1,410.0 853.3,410.0 853.5,412.0 853.7,412.0 854.0,412.0 854.2,412.0 854.4,412.0 854.6,412.0 854.8,414.0 855.0,414.0 855.2,414.0 855.4,414.0" fill="none" stroke="#008000" stroke-width="3.6" stroke-linejoin="round"/>
<path d="M846.1,403.4v-3.6M819.5,373.5v3.8M827.0,382.0v-3.6M811.3,364.3v3.8M810.5,363.4v-3.6M829.3,384.5v-3.6M849.7,407.3v3.8M827.1,382.1v-3.6M815.2,368.6v3.8M823.3,377.8v3.8M817.5,371.2v3.8M832.6,388.2v-3.6M830.4,385.8v3.8M841.7,398.4v3.8" fill="none" stroke="#008000" stroke-width="0.9"/>
<polyline points="855.0,412.5 856.0,419.0 857.0,429.2 858.6,458.1 860.1,481.3 863.2,522.6 867.3,561.9 871.3,590.2 873.5,598.0" fill="none" stroke="#008000" stroke-width="1.6" stroke-linejoin="round"/>
<path d="M872.5,594.0 L872.7,594.0 L872.9,594.0 L873.0,594.0 L873.1,594.6 L873.2,595.2 L873.2,595.8 L873.4,595.8 L873.6,595.8 L873.8,595.8 L873.8,596.4 L873.9,597.0 L873.9,597.6 L874.1,597.6 L874.3,597.6 L874.5,597.6 L874.5,598.2 L874.6,598.8 L874.7,599.4 L874.8,599.4 L875.0,599.4 L875.1,600.0 L875.1,600.6 L875.2,601.2 L875.4,601.2 L875.6,601.2 L875.7,601.2 L875.8,601.8 L875.9,602.4 L875.9,603.0 L876.1,603.0 L876.4,603.0 L876.7,603.0 L876.8,603.6 L876.9,604.2 L877.0,604.8 L877.3,604.8 L877.6,604.8 L877.9,604.8 L878.0,605.4 L878.1,606.0 L878.2,606.6 L878.5,606.6 L878.8,606.6 L879.1,606.6 L879.2,607.2 L879.3,607.8 L879.4,608.4 L879.7,608.4 L880.0,608.4 L880.4,608.4 L880.8,608.4 L881.0,609.0 L881.1,609.6 L881.2,610.2 L881.6,610.2 L882.0,610.2 L882.5,610.2 L882.9,610.2 L883.3,610.2 L883.4,610.8 L883.5,611.4 L883.7,612.0 L884.1,612.0 L884.5,612.0 L884.5,615.6 L884.1,615.6 L883.7,615.6 L883.5,615.0 L883.4,614.4 L883.3,613.8 L882.9,613.8 L882.5,613.8 L882.0,613.8 L881.6,613.8 L881.2,613.8 L881.1,613.2 L881.0,612.6 L880.8,612.0 L880.4,612.0 L880.0,612.0 L879.7,612.0 L879.4,612.0 L879.3,611.4 L879.2,610.8 L879.1,610.2 L878.8,610.2 L878.5,610.2 L878.2,610.2 L878.1,609.6 L878.0,609.0 L877.9,608.4 L877.6,608.4 L877.3,608.4 L877.0,608.4 L876.9,607.8 L876.8,607.2 L876.7,606.6 L876.4,606.6 L876.1,606.6 L875.9,606.6 L875.9,606.0 L875.8,605.4 L875.7,604.8 L875.6,604.8 L875.4,604.8 L875.2,604.8 L875.1,604.2 L875.1,603.6 L875.0,603.0 L874.8,603.0 L874.7,603.0 L874.6,602.4 L874.5,601.8 L874.5,601.2 L874.3,601.2 L874.1,601.2 L873.9,601.2 L873.9,600.6 L873.8,600.0 L873.8,599.4 L873.6,599.4 L873.4,599.4 L873.2,599.4 L873.2,598.8 L873.1,598.2 L873.0,597.6 L872.9,597.6 L872.7,597.6 L872.5,597.6Z" fill="#008000" stroke="none"/>
<path d="M873.9,600.9v2.3M875.1,603.9v2.3M875.7,604.5v2.8M881.1,612.9v2.1" fill="none" stroke="#008000" stroke-width="0.9"/>
<path d="M884.0,612.9 L884.5,612.9 L885.0,612.9 L885.5,613.0 L886.0,613.0 L886.5,613.0 L887.0,613.0 L887.5,613.1 L888.0,613.1 L888.5,613.1 L889.0,613.1 L889.5,613.2 L890.0,613.2 L890.5,613.2 L891.0,613.2 L891.5,612.5 L892.0,612.5 L892.5,614.1 L893.0,614.1 L893.5,614.2 L894.0,614.2 L894.5,614.2 L895.0,614.2 L895.5,613.5 L896.0,613.5 L896.0,618.5 L895.5,618.5 L895.0,619.2 L894.5,619.2 L894.0,619.2 L893.5,619.2 L893.0,619.1 L892.5,619.1 L892.0,617.5 L891.5,617.5 L891.0,618.2 L890.5,618.2 L890.0,618.2 L889.5,618.2 L889.0,618.1 L888.5,618.1 L888.0,618.1 L887.5,618.1 L887.0,618.0 L886.5,618.0 L886.0,618.0 L885.5,618.0 L885.0,617.9 L884.5,617.9 L884.0,617.9Z" fill="#008000" stroke="none"/>
<path d="M884.0,617.6v2.3M890.0,613.5v-2.0M890.5,617.9v2.4M892.5,618.8v2.5" fill="none" stroke="#008000" stroke-width="0.9"/>
<path d="M895.5,615.5 L896.0,615.5 L896.5,615.5 L897.0,615.5 L897.5,615.6 L898.0,615.6 L898.5,614.0 L899.0,614.0 L899.5,614.0 L900.0,614.0 L900.5,614.1 L901.0,614.1 L901.6,614.1 L902.1,614.1 L902.6,614.1 L903.1,615.7 L903.6,615.7 L904.1,615.8 L904.6,615.8 L905.1,615.8 L905.6,615.8 L906.1,615.0 L906.6,615.0 L907.1,615.0 L907.6,615.1 L908.1,615.1 L908.6,615.1 L909.1,614.3 L909.6,614.3 L910.1,615.1 L910.6,615.2 L911.1,615.2 L911.6,615.2 L912.1,615.2 L912.6,615.2 L913.2,615.2 L913.7,615.2 L914.2,615.3 L914.7,615.3 L915.2,615.3 L915.7,615.3 L916.2,615.3 L916.7,614.5 L917.2,614.5 L917.7,614.6 L918.2,614.6 L918.7,615.4 L919.2,615.4 L919.7,616.2 L920.2,616.2 L920.7,616.3 L921.2,614.7 L921.7,614.7 L922.2,614.7 L922.7,614.7 L923.2,615.5 L923.7,615.5 L924.2,615.6 L924.7,615.6 L925.3,615.6 L925.8,615.6 L926.3,615.6 L926.8,615.6 L927.3,615.6 L927.8,615.7 L928.3,616.5 L928.8,616.5 L929.3,616.5 L929.8,616.5 L930.3,616.5 L930.8,615.8 L931.3,615.8 L931.8,615.8 L932.3,615.8 L932.8,615.0 L933.3,615.0 L933.8,615.8 L934.3,615.9 L934.8,615.9 L935.3,615.9 L935.8,615.1 L936.3,615.1 L936.9,615.1 L937.4,615.1 L937.9,615.2 L938.4,615.2 L938.9,616.0 L939.4,616.0 L939.9,616.0 L940.4,616.0 L940.9,616.1 L941.4,616.1 L941.9,616.1 L942.4,616.1 L942.4,621.1 L941.9,621.1 L941.4,621.1 L940.9,621.1 L940.4,621.0 L939.9,621.0 L939.4,621.0 L938.9,621.0 L938.4,620.2 L937.9,620.2 L937.4,620.1 L936.9,620.1 L936.3,620.1 L935.8,620.1 L935.3,620.9 L934.8,620.9 L934.3,620.9 L933.8,620.8 L933.3,620.0 L932.8,620.0 L932.3,620.8 L931.8,620.8 L931.3,620.8 L930.8,620.8 L930.3,621.5 L929.8,621.5 L929.3,621.5 L928.8,621.5 L928.3,621.5 L927.8,620.7 L927.3,620.6 L926.8,620.6 L926.3,620.6 L925.8,620.6 L925.3,620.6 L924.7,620.6 L924.2,620.6 L923.7,620.5 L923.2,620.5 L922.7,619.7 L922.2,619.7 L921.7,619.7 L921.2,619.7 L920.7,621.3 L920.2,621.2 L919.7,621.2 L919.2,620.4 L918.7,620.4 L918.2,619.6 L917.7,619.6 L917.2,619.5 L916.7,619.5 L916.2,620.3 L915.7,620.3 L915.2,620.3 L914.7,620.3 L914.2,620.3 L913.7,620.2 L913.2,620.2 L912.6,620.2 L912.1,620.2 L911.6,620.2 L911.1,620.2 L910.6,620.2 L910.1,620.1 L909.6,619.3 L909.1,619.3 L908.6,620.1 L908.1,620.1 L907.6,620.1 L907.1,620.0 L906.6,620.0 L906.1,620.0 L905.6,620.8 L905.1,620.8 L904.6,620.8 L904.1,620.8 L903.6,620.7 L903.1,620.7 L902.6,619.1 L902.1,619.1 L901.6,619.1 L901.0,619.1 L900.5,619.1 L900.0,619.0 L899.5,619.0 L899.0,619.0 L898.5,619.0 L898.0,620.6 L897.5,620.6 L897.0,620.5 L896.5,620.5 L896.0,620.5 L895.5,620.5Z" fill="#008000" stroke="none"/>
<path d="M897.5,620.3v2.3M898.0,615.9v-2.5M898.0,620.3v2.1M900.5,614.4v-3.0M902.6,614.4v-2.2M902.6,618.8v2.5M905.1,616.1v-2.0M909.6,614.6v-2.3M911.1,619.9v2.7M912.1,615.5v-2.9M914.7,620.0v2.8M915.2,615.6v-3.0M916.2,620.0v2.7M916.7,614.8v-2.7M918.7,620.1v3.0M922.7,619.4v3.0M927.3,615.9v-2.5M929.8,616.8v-2.0M930.8,620.5v2.0M933.8,616.1v-2.7M935.3,620.6v3.0M938.4,615.5v-3.0" fill="none" stroke="#008000" stroke-width="0.9"/>
<polyline points="942.2,620.0 942.4,590.0 945.3,522.6 946.1,505.0 951.1,399.4 955.3,334.5" fill="none" stroke="#008000" stroke-width="1.5" stroke-linejoin="round"/>
<polyline points="1076.3,334.5 1083.5,364.0 1091.2,394.4 1097.3,415.5 1103.6,436.6 1109.7,454.2 1116.0,471.3 1124.3,491.1" fill="none" stroke="#008000" stroke-width="2.4" stroke-linejoin="round"/>
<path d="M712.2,480.0 L712.7,480.0 L713.2,480.0 L713.7,480.0 L714.2,480.0 L714.7,480.0 L715.2,480.0 L715.7,480.0 L716.2,480.0 L716.7,480.0 L717.2,480.0 L717.7,480.0 L718.2,480.0 L718.2,484.4 L717.7,484.4 L717.2,484.4 L716.7,484.4 L716.2,484.4 L715.7,484.4 L715.2,484.4 L714.7,484.4 L714.2,484.4 L713.7,484.4 L713.2,484.4 L712.7,484.4 L712.2,484.4Z" fill="#ff0000" stroke="none"/>
<path d="M716.2,484.1v3.1" fill="none" stroke="#ff0000" stroke-width="0.9"/>
<polyline points="717.9,484.0 718.6,490.0 720.2,503.0" fill="none" stroke="#ff0000" stroke-width="1.7" stroke-linejoin="round"/>
<path d="M720.0,502.4 L720.5,502.4 L721.0,502.4 L721.5,502.4 L722.0,502.4 L722.5,502.4 L723.1,502.4 L723.6,502.4 L724.1,502.4 L724.6,502.4 L725.1,502.4 L725.6,502.4 L726.1,502.4 L726.6,502.4 L727.1,502.4 L727.6,502.4 L728.1,502.4 L728.7,502.4 L729.2,502.4 L729.7,502.4 L730.2,502.4 L730.7,502.4 L731.2,502.4 L731.7,502.4 L732.2,502.4 L732.7,502.4 L733.2,502.4 L733.8,502.4 L734.3,502.4 L734.8,502.4 L735.3,502.4 L735.8,502.4 L736.3,502.4 L736.8,502.4 L737.3,502.4 L737.8,502.4 L738.3,502.4 L738.8,502.4 L739.4,502.4 L739.9,502.4 L740.4,502.4 L740.9,502.4 L741.4,502.4 L741.9,502.4 L741.9,506.4 L741.4,506.4 L740.9,506.4 L740.4,506.4 L739.9,506.4 L739.4,506.4 L738.8,506.4 L738.3,506.4 L737.8,506.4 L737.3,506.4 L736.8,506.4 L736.3,506.4 L735.8,506.4 L735.3,506.4 L734.8,506.4 L734.3,506.4 L733.8,506.4 L733.2,506.4 L732.7,506.4 L732.2,506.4 L731.7,506.4 L731.2,506.4 L730.7,506.4 L730.2,506.4 L729.7,506.4 L729.2,506.4 L728.7,506.4 L728.1,506.4 L727.6,506.4 L727.1,506.4 L726.6,506.4 L726.1,506.4 L725.6,506.4 L725.1,506.4 L724.6,506.4 L724.1,506.4 L723.6,506.4 L723.1,506.4 L722.5,506.4 L722.0,506.4 L721.5,506.4 L721.0,506.4 L720.5,506.4 L720.0,506.4Z" fill="#ff0000" stroke="none"/>
<path d="M723.4,499.7 L724.0,499.7 L724.5,499.7 L725.1,499.7 L725.6,499.7 L726.2,499.7 L726.2,502.7 L725.6,502.7 L725.1,502.7 L724.5,502.7 L724.0,502.7 L723.4,502.7Z" fill="#ff0000" stroke="none"/>
<path d="M729.0,499.7 L729.5,499.7 L730.0,499.7 L730.6,499.7 L731.1,499.7 L731.6,499.7 L731.6,502.7 L731.1,502.7 L730.6,502.7 L730.0,502.7 L729.5,502.7 L729.0,502.7Z" fill="#ff0000" stroke="none"/>
<path d="M741.7,506.4 L742.2,506.4 L742.7,506.4 L743.2,506.4 L743.7,506.4 L744.2,506.4 L744.7,506.4 L745.2,506.4 L745.7,506.4 L746.2,506.4 L746.7,506.4 L747.2,506.4 L747.7,506.4 L748.2,506.4 L748.8,506.4 L749.3,506.4 L749.8,506.4 L750.3,506.4 L750.8,506.4 L751.3,506.4 L751.8,506.4 L752.3,506.4 L752.8,506.4 L753.3,506.4 L753.8,506.4 L754.3,506.4 L754.8,506.4 L754.8,510.4 L754.3,510.4 L753.8,510.4 L753.3,510.4 L752.8,510.4 L752.3,510.4 L751.8,510.4 L751.3,510.4 L750.8,510.4 L750.3,510.4 L749.8,510.4 L749.3,510.4 L748.8,510.4 L748.2,510.4 L747.7,510.4 L747.2,510.4 L746.7,510.4 L746.2,510.4 L745.7,510.4 L745.2,510.4 L744.7,510.4 L744.2,510.4 L743.7,510.4 L743.2,510.4 L742.7,510.4 L742.2,510.4 L741.7,510.4Z" fill="#ff0000" stroke="none"/>
<path d="M747.7,506.7v-3.9M752.3,506.7v-3.9" fill="none" stroke="#ff0000" stroke-width="0.9"/>
<path d="M752.8,510.3 L753.3,510.3 L753.8,510.3 L754.3,510.3 L754.8,510.3 L755.3,510.3 L755.8,510.3 L756.3,510.3 L756.8,510.3 L757.3,510.3 L757.8,510.3 L758.3,510.3 L758.8,510.3 L759.3,510.3 L759.8,510.3 L760.3,510.3 L760.8,510.3 L761.3,510.3 L761.8,510.3 L762.3,510.3 L762.8,510.3 L763.3,510.3 L763.8,510.3 L764.3,510.3 L764.8,510.3 L765.3,510.3 L765.8,510.3 L766.3,510.3 L766.8,510.3 L767.3,510.3 L767.8,510.3 L768.3,510.3 L768.8,510.3 L769.3,510.3 L769.8,510.3 L770.3,510.3 L770.8,510.3 L771.3,510.3 L771.8,510.3 L772.3,510.3 L772.8,510.3 L773.3,510.3 L773.8,510.3 L774.3,510.3 L774.8,510.3 L775.3,510.3 L775.8,510.3 L776.3,510.3 L776.8,510.3 L777.3,510.3 L777.8,510.3 L778.3,510.3 L778.8,510.3 L779.3,510.3 L779.8,510.3 L780.3,510.3 L780.8,510.3 L781.3,510.3 L781.8,510.3 L782.3,510.3 L782.8,510.3 L783.3,510.3 L783.8,510.3 L784.3,510.3 L784.8,510.3 L785.3,510.3 L785.8,510.3 L786.3,510.3 L786.8,510.3 L787.3,510.3 L787.8,510.3 L788.3,510.3 L788.8,510.3 L789.3,510.3 L789.8,510.3 L790.3,510.3 L790.8,510.3 L791.3,510.3 L791.8,510.3 L792.3,510.3 L792.8,510.3 L793.3,510.3 L793.8,510.3 L794.3,510.3 L794.8,510.3 L795.3,510.3 L795.8,510.3 L796.3,510.3 L796.8,510.3 L797.3,510.3 L797.8,510.3 L798.3,510.3 L798.8,510.3 L799.3,510.3 L799.8,510.3 L800.3,510.3 L800.8,510.3 L800.8,514.3 L800.3,514.3 L799.8,514.3 L799.3,514.3 L798.8,514.3 L798.3,514.3 L797.8,514.3 L797.3,514.3 L796.8,514.3 L796.3,514.3 L795.8,514.3 L795.3,514.3 L794.8,514.3 L794.3,514.3 L793.8,514.3 L793.3,514.3 L792.8,514.3 L792.3,514.3 L791.8,514.3 L791.3,514.3 L790.8,514.3 L790.3,514.3 L789.8,514.3 L789.3,514.3 L788.8,514.3 L788.3,514.3 L787.8,514.3 L787.3,514.3 L786.8,514.3 L786.3,514.3 L785.8,514.3 L785.3,514.3 L784.8,514.3 L784.3,514.3 L783.8,514.3 L783.3,514.3 L782.8,514.3 L782.3,514.3 L781.8,514.3 L781.3,514.3 L780.8,514.3 L780.3,514.3 L779.8,514.3 L779.3,514.3 L778.8,514.3 L778.3,514.3 L777.8,514.3 L777.3,514.3 L776.8,514.3 L776.3,514.3 L775.8,514.3 L775.3,514.3 L774.8,514.3 L774.3,514.3 L773.8,514.3 L773.3,514.3 L772.8,514.3 L772.3,514.3 L771.8,514.3 L771.3,514.3 L770.8,514.3 L770.3,514.3 L769.8,514.3 L769.3,514.3 L768.8,514.3 L768.3,514.3 L767.8,514.3 L767.3,514.3 L766.8,514.3 L766.3,514.3 L765.8,514.3 L765.3,514.3 L764.8,514.3 L764.3,514.3 L763.8,514.3 L763.3,514.3 L762.8,514.3 L762.3,514.3 L761.8,514.3 L761.3,514.3 L760.8,514.3 L760.3,514.3 L759.8,514.3 L759.3,514.3 L758.8,514.3 L758.3,514.3 L757.8,514.3 L757.3,514.3 L756.8,514.3 L756.3,514.3 L755.8,514.3 L755.3,514.3 L754.8,514.3 L754.3,514.3 L753.8,514.3 L753.3,514.3 L752.8,514.3Z" fill="#ff0000" stroke="none"/>
<path d="M762.3,510.6v-2.6M765.8,510.6v-2.9M766.3,510.6v-3.0M766.3,514.0v3.0M766.8,514.0v3.2M772.3,510.6v-2.8M775.8,514.0v3.5M786.8,510.6v-3.7M789.3,514.0v3.5M793.8,510.6v-3.8" fill="none" stroke="#ff0000" stroke-width="0.9"/>
<path d="M800.6,506.3 L801.1,506.3 L801.6,506.3 L802.1,506.3 L802.6,506.3 L803.1,506.3 L803.6,506.3 L804.1,506.3 L804.6,506.3 L805.1,506.3 L805.6,506.3 L806.1,506.3 L806.6,506.3 L807.1,506.3 L807.6,506.3 L807.6,514.3 L807.1,514.3 L806.6,514.3 L806.1,514.3 L805.6,514.3 L805.1,514.3 L804.6,514.3 L804.1,514.3 L803.6,514.3 L803.1,514.3 L802.6,514.3 L802.1,514.3 L801.6,514.3 L801.1,514.3 L800.6,514.3Z" fill="#ff0000" stroke="none"/>
<path d="M807.6,506.4 L808.1,506.4 L808.6,506.4 L809.1,506.4 L809.6,506.4 L810.1,506.4 L810.6,506.4 L811.2,506.4 L811.7,506.4 L812.2,506.4 L812.7,506.4 L813.2,506.4 L813.7,506.4 L814.2,506.4 L814.7,506.4 L815.2,506.4 L815.7,506.4 L816.2,506.4 L816.7,506.4 L817.2,506.4 L817.8,506.4 L818.3,506.4 L818.8,506.4 L819.3,506.4 L819.8,506.4 L820.3,506.4 L820.8,506.4 L821.3,506.4 L821.8,506.4 L822.3,506.4 L822.8,506.4 L823.3,506.4 L823.8,506.4 L824.3,506.4 L824.9,506.4 L825.4,506.4 L825.9,506.4 L826.4,506.4 L826.9,506.4 L827.4,506.4 L827.9,506.4 L828.4,506.4 L828.9,506.4 L829.4,506.4 L829.9,506.4 L830.4,506.4 L830.9,506.4 L831.5,506.4 L832.0,506.4 L832.5,506.4 L833.0,506.4 L833.5,506.4 L834.0,506.4 L834.5,506.4 L834.5,510.4 L834.0,510.4 L833.5,510.4 L833.0,510.4 L832.5,510.4 L832.0,510.4 L831.5,510.4 L830.9,510.4 L830.4,510.4 L829.9,510.4 L829.4,510.4 L828.9,510.4 L828.4,510.4 L827.9,510.4 L827.4,510.4 L826.9,510.4 L826.4,510.4 L825.9,510.4 L825.4,510.4 L824.9,510.4 L824.3,510.4 L823.8,510.4 L823.3,510.4 L822.8,510.4 L822.3,510.4 L821.8,510.4 L821.3,510.4 L820.8,510.4 L820.3,510.4 L819.8,510.4 L819.3,510.4 L818.8,510.4 L818.3,510.4 L817.8,510.4 L817.2,510.4 L816.7,510.4 L816.2,510.4 L815.7,510.4 L815.2,510.4 L814.7,510.4 L814.2,510.4 L813.7,510.4 L813.2,510.4 L812.7,510.4 L812.2,510.4 L811.7,510.4 L811.2,510.4 L810.6,510.4 L810.1,510.4 L809.6,510.4 L809.1,510.4 L808.6,510.4 L808.1,510.4 L807.6,510.4Z" fill="#ff0000" stroke="none"/>
<path d="M808.6,510.1v2.7M809.6,506.7v-3.5M810.6,506.7v-3.0M817.2,506.7v-3.4M834.5,510.1v2.6" fill="none" stroke="#ff0000" stroke-width="0.9"/>
<path d="M832.0,502.3 L832.5,502.3 L833.0,502.3 L833.5,502.3 L834.0,502.3 L834.5,502.3 L835.0,502.3 L835.5,502.3 L836.0,502.3 L836.0,510.3 L835.5,510.3 L835.0,510.3 L834.5,510.3 L834.0,510.3 L833.5,510.3 L833.0,510.3 L832.5,510.3 L832.0,510.3Z" fill="#ff0000" stroke="none"/>
<path d="M835.8,502.4 L836.3,502.4 L836.8,502.4 L837.3,502.4 L837.8,502.4 L838.4,502.4 L838.9,502.4 L839.4,502.4 L839.9,502.4 L840.4,502.4 L840.9,502.4 L841.4,502.4 L841.9,502.4 L842.4,502.4 L842.9,502.4 L843.5,502.4 L844.0,502.4 L844.5,502.4 L845.0,502.4 L845.5,502.4 L846.0,502.4 L846.5,502.4 L847.0,502.4 L847.5,502.4 L848.1,502.4 L848.6,502.4 L849.1,502.4 L849.6,502.4 L850.1,502.4 L850.6,502.4 L851.1,502.4 L851.6,502.4 L852.1,502.4 L852.6,502.4 L853.2,502.4 L853.7,502.4 L854.2,502.4 L854.7,502.4 L855.2,502.4 L855.2,506.4 L854.7,506.4 L854.2,506.4 L853.7,506.4 L853.2,506.4 L852.6,506.4 L852.1,506.4 L851.6,506.4 L851.1,506.4 L850.6,506.4 L850.1,506.4 L849.6,506.4 L849.1,506.4 L848.6,506.4 L848.1,506.4 L847.5,506.4 L847.0,506.4 L846.5,506.4 L846.0,506.4 L845.5,506.4 L845.0,506.4 L844.5,506.4 L844.0,506.4 L843.5,506.4 L842.9,506.4 L842.4,506.4 L841.9,506.4 L841.4,506.4 L840.9,506.4 L840.4,506.4 L839.9,506.4 L839.4,506.4 L838.9,506.4 L838.4,506.4 L837.8,506.4 L837.3,506.4 L836.8,506.4 L836.3,506.4 L835.8,506.4Z" fill="#ff0000" stroke="none"/>
<path d="M837.8,502.7v-3.4M846.0,506.1v2.7M849.1,502.7v-3.1" fill="none" stroke="#ff0000" stroke-width="0.9"/>
<polyline points="854.9,505.0 855.5,498.0 856.4,480.0 857.4,463.5 858.1,460.8" fill="none" stroke="#ff0000" stroke-width="1.7" stroke-linejoin="round"/>
<polyline points="858.4,462.8 858.6,462.8 858.8,462.8 859.0,462.8 859.2,462.8 859.4,462.8 859.6,465.4 859.7,465.4 859.9,465.4 860.1,465.4 860.3,465.4 860.5,465.4 860.7,465.4 860.9,468.0 861.1,468.0 861.3,468.0 861.5,468.0 861.7,468.0 861.9,468.0 862.0,468.0 862.2,468.0 862.4,470.6 862.6,470.6 862.8,470.6 863.0,470.6 863.2,470.6 863.5,470.6 863.7,470.6 864.0,473.2 864.2,473.2 864.5,473.2 864.8,473.2 865.0,473.2 865.3,473.2 865.5,473.2 865.8,473.2 866.0,473.2 866.3,475.8 866.6,475.8 866.8,475.8 867.1,475.8 867.3,475.8 867.6,475.8 867.9,475.8 868.1,475.8 868.4,478.4 868.6,478.4 868.9,478.4 869.1,478.4 869.4,478.4 869.7,478.4 869.9,478.4 870.2,478.4 870.4,481.0 870.7,481.0 870.9,481.0 871.2,481.0 871.5,481.0 871.7,481.0 872.0,481.0 872.2,481.0 872.5,483.6 872.7,483.6 873.0,483.6 873.3,483.6 873.5,483.6 873.8,483.6 874.0,483.6 874.3,483.6 874.5,486.2 874.8,486.2" fill="none" stroke="#ff0000" stroke-width="2.8" stroke-linejoin="round"/>
<path d="M874.1,483.4 L874.6,483.4 L875.1,483.4 L875.6,483.4 L876.1,483.4 L876.6,483.4 L877.1,483.4 L877.6,483.4 L878.1,483.4 L878.6,483.4 L879.1,483.4 L879.6,483.4 L880.1,483.4 L880.6,483.4 L881.1,483.4 L881.6,483.4 L882.1,483.4 L882.6,483.4 L883.1,483.4 L883.6,483.4 L884.1,483.4 L884.6,483.4 L885.1,483.4 L885.6,483.4 L886.1,483.4 L886.6,483.4 L887.1,483.4 L887.6,483.4 L888.1,483.4 L888.6,483.4 L889.1,483.4 L889.6,483.4 L890.1,483.4 L890.6,483.4 L891.2,483.4 L891.7,483.4 L892.2,483.4 L892.7,483.4 L893.2,483.4 L893.7,483.4 L894.2,483.4 L894.7,483.4 L895.2,483.4 L895.7,483.4 L896.2,483.4 L896.7,483.4 L897.2,483.4 L897.7,483.4 L898.2,483.4 L898.7,483.4 L899.2,483.4 L899.7,483.4 L900.2,483.4 L900.7,483.4 L901.2,483.4 L901.7,483.4 L902.2,483.4 L902.7,483.4 L903.2,483.4 L903.7,483.4 L904.2,483.4 L904.7,483.4 L905.2,483.4 L905.7,483.4 L906.2,483.4 L906.7,483.4 L907.2,483.4 L907.7,483.4 L908.2,483.4 L908.7,483.4 L909.2,483.4 L909.7,483.4 L910.2,483.4 L910.7,483.4 L911.2,483.4 L911.7,483.4 L912.2,483.4 L912.7,483.4 L913.2,483.4 L913.7,483.4 L914.2,483.4 L914.7,483.4 L915.2,483.4 L915.7,483.4 L916.2,483.4 L916.7,483.4 L917.2,483.4 L917.7,483.4 L918.2,483.4 L918.7,483.4 L919.2,483.4 L919.7,483.4 L920.2,483.4 L920.7,483.4 L921.2,483.4 L921.7,483.4 L922.2,483.4 L922.7,483.4 L923.2,483.4 L923.7,483.4 L924.2,483.4 L924.8,483.4 L925.3,483.4 L925.8,483.4 L926.3,483.4 L926.8,483.4 L927.3,483.4 L927.8,483.4 L928.3,483.4 L928.8,483.4 L929.3,483.4 L929.8,483.4 L930.3,483.4 L930.8,483.4 L931.3,483.4 L931.8,483.4 L932.3,483.4 L932.8,483.4 L933.3,483.4 L933.8,483.4 L934.3,483.4 L934.8,483.4 L935.3,483.4 L935.8,483.4 L936.3,483.4 L936.8,483.4 L937.3,483.4 L937.8,483.4 L938.3,483.4 L938.8,483.4 L939.3,483.4 L939.8,483.4 L940.3,483.4 L940.8,483.4 L941.3,483.4 L941.3,487.9 L940.8,487.9 L940.3,487.9 L939.8,487.9 L939.3,487.9 L938.8,487.9 L938.3,487.9 L937.8,487.9 L937.3,487.9 L936.8,487.9 L936.3,487.9 L935.8,487.9 L935.3,487.9 L934.8,487.9 L934.3,487.9 L933.8,487.9 L933.3,487.9 L932.8,487.9 L932.3,487.9 L931.8,487.9 L931.3,487.9 L930.8,487.9 L930.3,487.9 L929.8,487.9 L929.3,487.9 L928.8,487.9 L928.3,487.9 L927.8,487.9 L927.3,487.9 L926.8,487.9 L926.3,487.9 L925.8,487.9 L925.3,487.9 L924.8,487.9 L924.2,487.9 L923.7,487.9 L923.2,487.9 L922.7,487.9 L922.2,487.9 L921.7,487.9 L921.2,487.9 L920.7,487.9 L920.2,487.9 L919.7,487.9 L919.2,487.9 L918.7,487.9 L918.2,487.9 L917.7,487.9 L917.2,487.9 L916.7,487.9 L916.2,487.9 L915.7,487.9 L915.2,487.9 L914.7,487.9 L914.2,487.9 L913.7,487.9 L913.2,487.9 L912.7,487.9 L912.2,487.9 L911.7,487.9 L911.2,487.9 L910.7,487.9 L910.2,487.9 L909.7,487.9 L909.2,487.9 L908.7,487.9 L908.2,487.9 L907.7,487.9 L907.2,487.9 L906.7,487.9 L906.2,487.9 L905.7,487.9 L905.2,487.9 L904.7,487.9 L904.2,487.9 L903.7,487.9 L903.2,487.9 L902.7,487.9 L902.2,487.9 L901.7,487.9 L901.2,487.9 L900.7,487.9 L900.2,487.9 L899.7,487.9 L899.2,487.9 L898.7,487.9 L898.2,487.9 L897.7,487.9 L897.2,487.9 L896.7,487.9 L896.2,487.9 L895.7,487.9 L895.2,487.9 L894.7,487.9 L894.2,487.9 L893.7,487.9 L893.2,487.9 L892.7,487.9 L892.2,487.9 L891.7,487.9 L891.2,487.9 L890.6,487.9 L890.1,487.9 L889.6,487.9 L889.1,487.9 L888.6,487.9 L888.1,487.9 L887.6,487.9 L887.1,487.9 L886.6,487.9 L886.1,487.9 L885.6,487.9 L885.1,487.9 L884.6,487.9 L884.1,487.9 L883.6,487.9 L883.1,487.9 L882.6,487.9 L882.1,487.9 L881.6,487.9 L881.1,487.9 L880.6,487.9 L880.1,487.9 L879.6,487.9 L879.1,487.9 L878.6,487.9 L878.1,487.9 L877.6,487.9 L877.1,487.9 L876.6,487.9 L876.1,487.9 L875.6,487.9 L875.1,487.9 L874.6,487.9 L874.1,487.9Z" fill="#ff0000" stroke="none"/>
<path d="M879.1,487.6v2.5M903.7,483.7v-2.6M911.2,483.7v-3.3M925.8,487.6v3.5M928.8,483.7v-3.6" fill="none" stroke="#ff0000" stroke-width="0.9"/>
<path d="M935.5,481.6 L936.0,481.6 L936.5,481.6 L937.0,481.6 L937.5,481.6 L938.0,481.6 L938.5,481.6 L938.5,483.6 L938.0,483.6 L937.5,483.6 L937.0,483.6 L936.5,483.6 L936.0,483.6 L935.5,483.6Z" fill="#ff0000" stroke="none"/>
<path d="M935.5,481.9v-2.7M937.0,481.9v-2.1M938.5,481.9v-2.0" fill="none" stroke="#ff0000" stroke-width="0.9"/>
<polyline points="941.6,484.0 941.7,560.0 942.0,589.5" fill="none" stroke="#ff0000" stroke-width="1.25" stroke-linejoin="round"/>
<polyline points="941.9,589.5 942.5,560.0 942.9,545.0 943.6,557.0 944.4,541.5 945.3,554.0 946.2,541.0 947.2,553.5 948.2,542.0 949.2,552.0 950.2,541.5 951.2,550.0 952.2,541.0 953.2,546.0" fill="none" stroke="#ff0000" stroke-width="1.3" stroke-linejoin="round"/>
<path d="M942.6,544.5 L943.1,544.4 L943.6,544.4 L944.1,544.3 L944.6,544.2 L945.1,544.1 L945.6,544.1 L946.1,544.0 L946.6,544.9 L947.1,544.9 L947.6,544.8 L948.0,544.7 L948.5,544.6 L949.0,542.6 L949.5,542.5 L950.0,542.4 L950.5,542.4 L951.0,542.3 L951.5,542.2 L952.0,543.1 L952.5,543.1 L953.0,543.0 L953.0,547.0 L952.5,547.1 L952.0,547.1 L951.5,546.2 L951.0,546.3 L950.5,546.4 L950.0,546.4 L949.5,546.5 L949.0,546.6 L948.5,548.6 L948.0,548.7 L947.6,548.8 L947.1,548.9 L946.6,548.9 L946.1,548.0 L945.6,548.1 L945.1,548.1 L944.6,548.2 L944.1,548.3 L943.6,548.4 L943.1,548.4 L942.6,548.5Z" fill="#ff0000" stroke="none"/>
<path d="M942.6,544.8v-2.4M944.1,548.0v3.1M948.5,548.3v2.3M952.0,546.8v2.8" fill="none" stroke="#ff0000" stroke-width="0.9"/>
<polyline points="952.5,544.0 952.9,544.0 953.2,544.0 953.5,544.0 953.9,542.0 954.2,542.0 954.6,542.0 954.9,542.0 955.3,542.0 955.6,542.0 956.0,542.0 956.4,542.0 956.7,542.0 957.0,540.0 957.4,540.0 957.8,540.0 958.1,540.0 958.4,540.0 958.8,540.0" fill="none" stroke="#ff0000" stroke-width="3.4" stroke-linejoin="round"/>
<polyline points="958.8,540.8 959.1,540.8 959.5,540.8 959.8,540.8 960.2,540.8 960.5,540.8 960.9,540.8 961.2,540.8 961.6,540.8 961.9,540.8 962.2,540.8 962.6,540.8 962.9,543.4 963.3,543.4 963.6,543.4 964.0,543.4 964.3,543.4 964.7,543.4 965.0,543.4 965.3,543.4 965.7,543.4 966.0,543.4 966.4,543.4 966.7,543.4 967.1,546.0 967.4,546.0 967.8,546.0 968.1,546.0 968.4,546.0 968.7,546.0 969.0,546.0 969.3,546.0 969.6,546.0 969.9,546.0 970.1,548.6 970.4,548.6 970.7,548.6 971.0,548.6 971.3,548.6 971.6,548.6 971.9,548.6 972.2,548.6 972.5,548.6 972.8,551.2 973.1,551.2 973.4,551.2 973.7,551.2 974.0,551.2 974.2,551.2 974.5,551.2 974.8,551.2 975.1,551.2 975.4,553.8 975.7,553.8 976.0,553.8 976.3,553.8 976.6,553.8 976.9,553.8 977.2,553.8 977.5,553.8 977.8,553.8 978.1,556.4 978.4,556.4 978.7,556.4 979.0,556.4 979.3,556.4 979.5,556.4 979.8,556.4 980.1,556.4 980.4,559.0 980.7,559.0 981.0,559.0 981.3,559.0 981.6,559.0 981.9,559.0 982.2,559.0 982.5,559.0 982.7,559.0 982.8,561.6 983.0,561.6 983.1,561.6 983.3,561.6 983.4,561.6 983.6,561.6 983.7,561.6 983.9,564.2 984.0,564.2 984.2,564.2 984.3,564.2 984.5,564.2 984.6,564.2 984.8,566.8 985.0,566.8 985.1,566.8 985.3,566.8 985.4,566.8 985.6,566.8 985.7,566.8 985.9,569.4 986.0,569.4 986.2,569.4 986.3,569.4 986.5,569.4 986.6,569.4 986.8,569.4 987.1,572.0 987.4,572.0 987.7,572.0 988.0,572.0 988.3,572.0 988.5,572.0 988.8,572.0 989.1,572.0 989.4,572.0 989.7,574.6 990.0,574.6 990.3,574.6 990.6,574.6 990.9,574.6 991.2,574.6 991.4,574.6 991.7,574.6 992.0,574.6 992.3,577.2 992.6,577.2 992.9,577.2 993.3,577.2 993.6,577.2 994.0,577.2 994.3,577.2 994.7,577.2 995.0,577.2 995.4,577.2 995.8,577.2 996.1,577.2 996.5,579.8 996.8,579.8 997.2,579.8 997.5,579.8 997.9,579.8 998.2,579.8 998.6,579.8 999.0,579.8 999.3,579.8 999.7,579.8 1000.0,579.8 1000.4,579.8 1000.7,579.8 1001.1,579.8 1001.5,582.4 1001.8,582.4 1002.2,582.4 1002.6,582.4 1003.0,582.4 1003.3,582.4 1003.7,582.4 1004.1,582.4 1004.4,582.4 1004.8,582.4 1005.2,582.4 1005.5,582.4 1005.9,582.4 1006.3,582.4 1006.6,582.4 1007.0,585.0 1007.4,585.0 1007.8,585.0 1008.1,585.0 1008.5,585.0 1008.7,585.0 1008.9,585.0 1009.1,585.0 1009.3,585.0 1009.5,585.0 1009.8,587.6 1010.0,587.6 1010.2,587.6 1010.4,587.6 1010.6,587.6 1010.8,587.6 1011.0,587.6 1011.2,590.2 1011.4,590.2 1011.6,590.2 1011.8,590.2 1012.0,590.2 1012.3,590.2 1012.5,590.2 1012.7,592.8 1012.9,592.8 1013.1,592.8 1013.3,592.8 1013.5,592.8 1013.7,592.8 1013.9,592.8 1014.2,592.8 1014.4,595.4 1014.6,595.4 1014.8,595.4 1015.0,595.4 1015.2,595.4 1015.4,595.4 1015.7,595.4 1015.9,598.0 1016.1,598.0 1016.3,598.0 1016.5,598.0 1016.7,598.0 1016.9,598.0 1017.2,598.0 1017.4,598.0 1017.6,600.6 1017.8,600.6 1018.0,600.6 1018.2,600.6 1018.4,600.6 1018.7,600.6 1018.9,600.6 1019.1,600.6 1019.3,603.2 1019.6,603.2 1020.0,603.2 1020.3,603.2 1020.6,603.2 1021.0,603.2 1021.3,603.2 1021.7,603.2 1022.0,603.2 1022.3,603.2 1022.7,605.8 1023.0,605.8 1023.3,605.8 1023.7,605.8 1024.0,605.8 1024.3,605.8 1024.7,605.8 1025.0,605.8 1025.3,605.8 1025.7,605.8 1026.0,605.8 1026.4,608.4 1026.7,608.4 1027.0,608.4 1027.4,608.4 1027.7,608.4 1028.1,608.4 1028.5,608.4 1028.8,608.4 1029.2,608.4 1029.6,608.4 1030.0,608.4 1030.3,608.4 1030.7,608.4 1031.1,608.4 1031.5,608.4 1031.9,611.0 1032.2,611.0 1032.6,611.0 1033.0,611.0 1033.4,611.0 1033.8,611.0 1034.1,611.0 1034.5,611.0 1034.9,611.0 1035.3,611.0 1035.6,611.0 1036.0,611.0 1036.4,611.0 1036.8,611.0 1037.2,611.0 1037.5,611.0 1037.9,611.0 1038.3,613.6 1038.7,613.6 1039.0,613.6 1039.4,613.6 1039.8,613.6" fill="none" stroke="#ff0000" stroke-width="3.3" stroke-linejoin="round"/>
<path d="M1036.0,611.5v-4.2M1033.7,610.6v4.2M959.3,540.1v-4.2M1015.6,596.2v4.2M1018.6,601.2v4.2M967.6,545.1v4.2M976.3,553.6v4.2M977.5,554.8v-4.2M1002.4,581.6v4.2M1036.9,611.9v4.2M1013.5,592.8v4.2M1028.7,608.6v4.2M1013.1,592.3v4.2M988.8,572.5v4.2M966.2,544.2v4.2M977.5,554.8v-4.2M978.2,555.5v-4.2M1031.5,609.7v-4.2M1021.8,604.0v4.2M1000.8,580.8v-4.2M988.7,572.4v4.2M985.2,566.4v4.2M1001.9,581.4v4.2M996.1,578.5v4.2M1009.8,586.6v-4.2M1023.1,604.9v4.2" fill="none" stroke="#ff0000" stroke-width="0.9"/>
<path d="M1039.8,609.9 L1039.9,610.4 L1040.0,610.9 L1040.2,611.4 L1040.3,611.9 L1040.8,611.9 L1041.3,611.9 L1041.8,611.9 L1042.3,611.9 L1042.8,611.9 L1043.3,611.9 L1043.8,611.9 L1044.2,611.9 L1044.7,611.9 L1045.2,611.9 L1045.7,611.9 L1046.2,611.9 L1046.7,611.9 L1047.2,611.9 L1047.7,611.9 L1048.2,611.9 L1048.7,611.9 L1049.2,611.9 L1049.7,611.9 L1050.2,611.9 L1050.3,612.4 L1050.4,612.9 L1050.5,613.4 L1050.7,613.9 L1051.2,613.9 L1051.7,613.9 L1052.2,613.9 L1052.6,613.9 L1053.1,613.9 L1053.6,613.9 L1054.1,613.9 L1054.6,613.9 L1055.1,613.9 L1055.6,613.9 L1056.1,613.9 L1056.6,613.9 L1056.6,618.1 L1056.1,618.1 L1055.6,618.1 L1055.1,618.1 L1054.6,618.1 L1054.1,618.1 L1053.6,618.1 L1053.1,618.1 L1052.6,618.1 L1052.2,618.1 L1051.7,618.1 L1051.2,618.1 L1050.7,618.1 L1050.5,617.6 L1050.4,617.1 L1050.3,616.6 L1050.2,616.1 L1049.7,616.1 L1049.2,616.1 L1048.7,616.1 L1048.2,616.1 L1047.7,616.1 L1047.2,616.1 L1046.7,616.1 L1046.2,616.1 L1045.7,616.1 L1045.2,616.1 L1044.7,616.1 L1044.2,616.1 L1043.8,616.1 L1043.3,616.1 L1042.8,616.1 L1042.3,616.1 L1041.8,616.1 L1041.3,616.1 L1040.8,616.1 L1040.3,616.1 L1040.2,615.6 L1040.0,615.1 L1039.9,614.6 L1039.8,614.1Z" fill="#ff0000" stroke="none"/>
<path d="M1042.3,615.8v2.9M1043.8,615.8v2.6M1050.3,612.7v-2.4M1055.6,614.2v-2.6M1056.6,617.8v2.7" fill="none" stroke="#ff0000" stroke-width="0.9"/>
<path d="M1056.0,615.1 L1056.5,615.1 L1057.0,615.1 L1057.5,615.1 L1058.0,615.1 L1058.5,615.1 L1059.0,615.2 L1059.5,615.2 L1060.0,615.2 L1060.5,615.2 L1061.0,615.2 L1061.5,615.2 L1062.0,615.2 L1062.5,615.2 L1063.0,615.2 L1063.5,615.2 L1064.0,615.2 L1064.5,615.3 L1065.0,615.3 L1065.5,615.3 L1066.0,615.3 L1066.5,615.3 L1067.0,615.3 L1067.5,615.3 L1068.0,615.3 L1068.5,615.3 L1069.0,615.3 L1069.5,615.3 L1070.0,615.4 L1070.5,615.4 L1071.0,615.4 L1071.5,615.4 L1072.0,615.4 L1072.5,615.4 L1073.0,615.4 L1073.5,615.4 L1074.0,615.4 L1074.5,615.4 L1075.0,615.4 L1075.5,615.5 L1076.0,615.5 L1076.5,615.5 L1077.0,615.5 L1077.5,615.5 L1078.0,615.5 L1078.0,619.7 L1077.5,619.7 L1077.0,619.7 L1076.5,619.7 L1076.0,619.7 L1075.5,619.7 L1075.0,619.6 L1074.5,619.6 L1074.0,619.6 L1073.5,619.6 L1073.0,619.6 L1072.5,619.6 L1072.0,619.6 L1071.5,619.6 L1071.0,619.6 L1070.5,619.6 L1070.0,619.6 L1069.5,619.5 L1069.0,619.5 L1068.5,619.5 L1068.0,619.5 L1067.5,619.5 L1067.0,619.5 L1066.5,619.5 L1066.0,619.5 L1065.5,619.5 L1065.0,619.5 L1064.5,619.5 L1064.0,619.4 L1063.5,619.4 L1063.0,619.4 L1062.5,619.4 L1062.0,619.4 L1061.5,619.4 L1061.0,619.4 L1060.5,619.4 L1060.0,619.4 L1059.5,619.4 L1059.0,619.4 L1058.5,619.3 L1058.0,619.3 L1057.5,619.3 L1057.0,619.3 L1056.5,619.3 L1056.0,619.3Z" fill="#ff0000" stroke="none"/>
<path d="M1057.0,615.4v-2.9M1057.5,615.4v-2.7M1058.0,619.0v2.5M1059.0,615.5v-2.9M1059.0,619.1v2.2M1062.0,615.5v-2.8M1062.0,619.1v2.5M1062.5,619.1v2.7M1066.0,615.6v-2.5M1072.5,615.7v-2.2M1072.5,619.3v2.9M1075.0,615.7v-2.2M1076.0,619.4v2.1" fill="none" stroke="#ff0000" stroke-width="0.9"/>
<path d="M1077.0,616.8 L1077.5,616.8 L1078.0,616.8 L1078.5,616.8 L1079.0,616.9 L1079.5,616.9 L1080.0,616.9 L1080.5,616.9 L1081.0,616.9 L1081.5,616.9 L1082.0,617.0 L1082.5,617.0 L1083.0,617.0 L1083.5,617.0 L1084.0,617.0 L1084.5,617.0 L1085.0,617.1 L1085.5,617.1 L1086.0,617.1 L1086.5,617.1 L1087.0,617.1 L1087.5,617.1 L1088.0,617.1 L1088.5,617.2 L1089.0,617.2 L1089.5,617.2 L1090.0,617.2 L1090.5,617.2 L1091.0,617.2 L1091.5,617.3 L1092.0,617.3 L1092.5,617.3 L1093.0,617.3 L1093.5,617.3 L1094.0,617.3 L1094.5,617.4 L1095.0,617.4 L1095.5,617.4 L1096.0,617.4 L1096.0,621.8 L1095.5,621.8 L1095.0,621.8 L1094.5,621.8 L1094.0,621.7 L1093.5,621.7 L1093.0,621.7 L1092.5,621.7 L1092.0,621.7 L1091.5,621.7 L1091.0,621.6 L1090.5,621.6 L1090.0,621.6 L1089.5,621.6 L1089.0,621.6 L1088.5,621.6 L1088.0,621.5 L1087.5,621.5 L1087.0,621.5 L1086.5,621.5 L1086.0,621.5 L1085.5,621.5 L1085.0,621.5 L1084.5,621.4 L1084.0,621.4 L1083.5,621.4 L1083.0,621.4 L1082.5,621.4 L1082.0,621.4 L1081.5,621.3 L1081.0,621.3 L1080.5,621.3 L1080.0,621.3 L1079.5,621.3 L1079.0,621.3 L1078.5,621.2 L1078.0,621.2 L1077.5,621.2 L1077.0,621.2Z" fill="#ff0000" stroke="none"/>
<path d="M1078.5,617.1v-3.0M1081.0,617.2v-2.2M1081.5,621.0v2.9M1082.5,617.3v-3.0M1083.0,617.3v-2.3M1087.5,617.4v-2.8M1087.5,621.2v2.5M1090.5,617.5v-2.2M1092.5,617.6v-2.1M1093.0,621.4v2.0M1095.5,621.5v2.8" fill="none" stroke="#ff0000" stroke-width="0.9"/>
<path d="M1095.0,618.1 L1095.5,618.1 L1096.0,618.1 L1096.5,618.1 L1097.0,618.1 L1097.5,618.1 L1098.0,618.1 L1098.5,618.1 L1099.0,618.1 L1099.5,618.1 L1100.1,618.1 L1100.6,618.1 L1101.1,618.1 L1101.6,618.1 L1102.1,618.1 L1102.6,618.1 L1103.1,618.1 L1103.6,618.1 L1104.1,618.1 L1104.6,618.1 L1105.1,618.1 L1105.6,618.1 L1106.1,618.1 L1106.6,618.1 L1107.1,618.1 L1107.6,618.1 L1108.1,618.1 L1108.6,618.1 L1109.1,618.1 L1109.7,618.1 L1110.2,618.1 L1110.7,618.1 L1111.2,618.1 L1111.7,618.1 L1112.2,618.1 L1112.7,618.1 L1113.2,618.1 L1113.7,618.1 L1114.2,618.1 L1114.7,618.1 L1115.2,618.1 L1115.7,618.1 L1116.2,618.1 L1116.7,618.1 L1117.2,618.1 L1117.7,618.1 L1118.2,618.1 L1118.7,618.1 L1119.2,618.1 L1119.8,618.1 L1120.3,618.1 L1120.8,618.1 L1121.3,618.1 L1121.8,618.1 L1122.3,618.1 L1122.8,618.1 L1123.3,618.1 L1123.8,618.1 L1124.3,618.1 L1124.3,622.7 L1123.8,622.7 L1123.3,622.7 L1122.8,622.7 L1122.3,622.7 L1121.8,622.7 L1121.3,622.7 L1120.8,622.7 L1120.3,622.7 L1119.8,622.7 L1119.2,622.7 L1118.7,622.7 L1118.2,622.7 L1117.7,622.7 L1117.2,622.7 L1116.7,622.7 L1116.2,622.7 L1115.7,622.7 L1115.2,622.7 L1114.7,622.7 L1114.2,622.7 L1113.7,622.7 L1113.2,622.7 L1112.7,622.7 L1112.2,622.7 L1111.7,622.7 L1111.2,622.7 L1110.7,622.7 L1110.2,622.7 L1109.7,622.7 L1109.1,622.7 L1108.6,622.7 L1108.1,622.7 L1107.6,622.7 L1107.1,622.7 L1106.6,622.7 L1106.1,622.7 L1105.6,622.7 L1105.1,622.7 L1104.6,622.7 L1104.1,622.7 L1103.6,622.7 L1103.1,622.7 L1102.6,622.7 L1102.1,622.7 L1101.6,622.7 L1101.1,622.7 L1100.6,622.7 L1100.1,622.7 L1099.5,622.7 L1099.0,622.7 L1098.5,622.7 L1098.0,622.7 L1097.5,622.7 L1097.0,622.7 L1096.5,622.7 L1096.0,622.7 L1095.5,622.7 L1095.0,622.7Z" fill="#ff0000" stroke="none"/>
<path d="M1100.6,618.4v-2.6M1117.2,618.4v-2.1" fill="none" stroke="#ff0000" stroke-width="0.9"/>
<ellipse cx="831" cy="384.8" rx="12.2" ry="23.4" fill="none" stroke="#006400" stroke-width="2.8"/>
<line x1="842.50" y1="369.70" x2="869.50" y2="369.70" stroke="#006400" stroke-width="2.4" />
<polyline points="857.0,363.2 869.2,369.7 857.0,376.2" fill="none" stroke="#006400" stroke-width="2.4" stroke-linejoin="miter" stroke-linecap="butt"/>
<ellipse cx="907.4" cy="478" rx="12.0" ry="23.3" fill="none" stroke="#ff0000" stroke-width="2.7"/>
<line x1="871.50" y1="461.70" x2="897.50" y2="461.70" stroke="#ff0000" stroke-width="2.4" />
<polyline points="883.8,455.5 871.8,461.7 883.8,467.9" fill="none" stroke="#ff0000" stroke-width="2.4" stroke-linejoin="miter" stroke-linecap="butt"/>
<text x="0" y="0" transform="translate(880.9 387.2) skewX(-7) scale(0.79 1)" font-family='"DejaVu Sans Mono", monospace' font-style="italic" font-size="39.5" fill="#087808">I</text>
<text x="895.30" y="397.10" font-size="26" font-family='"DejaVu Sans", "Liberation Sans", sans-serif' text-anchor="start" fill="#087808" >d</text>
<text x="0" y="0" transform="translate(858.6 439.5) skewX(-7.5)" font-family='"DejaVu Sans", "Liberation Sans", sans-serif' font-style="italic" font-size="38.5" fill="#ff0000">V</text>
<text x="885.60" y="449.90" font-size="26.6" font-family='"DejaVu Sans", "Liberation Sans", sans-serif' text-anchor="start" fill="#ff0000" textLength="28.6" lengthAdjust="spacingAndGlyphs" >ds</text>
</svg></body></html>
